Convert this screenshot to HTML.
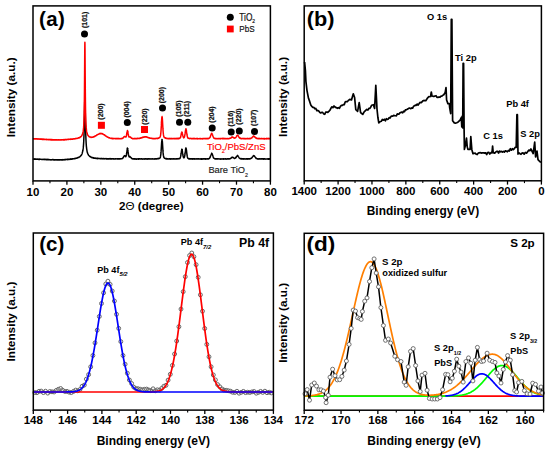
<!DOCTYPE html>
<html><head><meta charset="utf-8"><style>
html,body{margin:0;padding:0;background:#fff;width:550px;height:453px;overflow:hidden;}
svg{display:block;font-family:"Liberation Sans", sans-serif;}
</style></head><body>
<svg width="550" height="453" viewBox="0 0 550 453" font-family='"Liberation Sans", sans-serif'>
<rect width="550" height="453" fill="#fff"/>
<path d="M33.17,158.96 L33.34,159.09 L33.51,159.02 L33.68,159.12 L33.85,159.13 L34.02,158.91 L34.19,158.89 L34.35,159.23 L34.52,159.00 L34.69,158.99 L34.86,159.30 L35.03,159.09 L35.20,159.24 L35.37,159.10 L35.54,159.17 L35.71,158.98 L35.88,159.18 L36.05,159.28 L36.22,159.14 L36.39,159.23 L36.56,159.21 L36.73,158.97 L36.89,159.25 L37.06,159.19 L37.23,159.08 L37.40,158.98 L37.57,159.32 L37.74,159.16 L37.91,159.27 L38.08,159.34 L38.25,159.28 L38.42,159.37 L38.59,159.16 L38.76,159.33 L38.93,159.19 L39.10,159.39 L39.27,159.38 L39.43,159.07 L39.60,159.09 L39.77,159.13 L39.94,159.44 L40.11,159.23 L40.28,159.31 L40.45,159.19 L40.62,159.28 L40.79,159.24 L40.96,159.23 L41.13,159.33 L41.30,159.34 L41.47,159.47 L41.64,159.39 L41.81,159.50 L41.97,159.47 L42.14,159.53 L42.31,159.41 L42.48,159.22 L42.65,159.50 L42.82,159.55 L42.99,159.54 L43.16,159.41 L43.33,159.48 L43.50,159.28 L43.67,159.54 L43.84,159.44 L44.01,159.33 L44.18,159.25 L44.35,159.58 L44.51,159.64 L44.68,159.29 L44.85,159.58 L45.02,159.43 L45.19,159.34 L45.36,159.40 L45.53,159.60 L45.70,159.65 L45.87,159.33 L46.04,159.56 L46.21,159.34 L46.38,159.62 L46.55,159.47 L46.72,159.70 L46.89,159.75 L47.05,159.57 L47.22,159.77 L47.39,159.51 L47.56,159.42 L47.73,159.64 L47.90,159.42 L48.07,159.49 L48.24,159.58 L48.41,159.67 L48.58,159.50 L48.75,159.46 L48.92,159.80 L49.09,159.59 L49.26,159.85 L49.43,159.83 L49.59,159.63 L49.76,159.67 L49.93,159.70 L50.10,159.76 L50.27,159.75 L50.44,159.74 L50.61,159.77 L50.78,159.91 L50.95,159.74 L51.12,159.72 L51.29,159.84 L51.46,159.65 L51.63,159.68 L51.80,159.96 L51.97,159.78 L52.13,159.80 L52.30,159.59 L52.47,159.76 L52.64,159.83 L52.81,159.61 L52.98,159.85 L53.15,159.87 L53.32,159.64 L53.49,159.87 L53.66,159.81 L53.83,159.90 L54.00,159.78 L54.17,159.92 L54.34,159.94 L54.51,159.65 L54.67,159.67 L54.84,159.92 L55.01,160.04 L55.18,159.76 L55.35,159.84 L55.52,159.90 L55.69,159.79 L55.86,159.81 L56.03,159.79 L56.20,159.82 L56.37,159.91 L56.54,159.79 L56.71,159.82 L56.88,159.98 L57.04,159.68 L57.21,159.90 L57.38,159.97 L57.55,159.80 L57.72,159.76 L57.89,159.99 L58.06,159.77 L58.23,159.74 L58.40,159.84 L58.57,159.94 L58.74,159.70 L58.91,159.79 L59.08,159.79 L59.25,159.99 L59.42,159.83 L59.59,159.99 L59.75,159.71 L59.92,159.78 L60.09,159.90 L60.26,159.99 L60.43,159.81 L60.60,159.72 L60.77,159.67 L60.94,159.83 L61.11,159.69 L61.28,159.93 L61.45,159.94 L61.62,159.67 L61.79,159.70 L61.96,159.90 L62.12,159.83 L62.29,159.89 L62.46,159.70 L62.63,159.60 L62.80,159.66 L62.97,159.86 L63.14,159.64 L63.31,159.66 L63.48,159.68 L63.65,159.67 L63.82,159.66 L63.99,159.85 L64.16,159.54 L64.33,159.47 L64.50,159.83 L64.66,159.80 L64.83,159.83 L65.00,159.60 L65.17,159.80 L65.34,159.78 L65.51,159.48 L65.68,159.68 L65.85,159.71 L66.02,159.62 L66.19,159.55 L66.36,159.45 L66.53,159.46 L66.70,159.40 L66.87,159.32 L67.04,159.52 L67.20,159.39 L67.37,159.58 L67.54,159.26 L67.71,159.59 L67.88,159.49 L68.05,159.57 L68.22,159.55 L68.39,159.53 L68.56,159.39 L68.73,159.15 L68.90,159.43 L69.07,159.18 L69.24,159.22 L69.41,159.34 L69.58,159.27 L69.74,159.21 L69.91,159.40 L70.08,159.26 L70.25,159.13 L70.42,159.08 L70.59,159.30 L70.76,159.13 L70.93,159.23 L71.10,159.04 L71.27,158.96 L71.44,159.08 L71.61,159.17 L71.78,158.89 L71.95,159.12 L72.12,159.15 L72.28,159.08 L72.45,159.07 L72.62,158.72 L72.79,158.94 L72.96,159.01 L73.13,158.66 L73.30,158.73 L73.47,158.70 L73.64,158.78 L73.81,158.71 L73.98,158.70 L74.15,158.79 L74.32,158.46 L74.49,158.45 L74.66,158.45 L74.82,158.41 L74.99,158.36 L75.16,158.69 L75.33,158.60 L75.50,158.26 L75.67,158.39 L75.84,158.28 L76.01,158.24 L76.18,158.21 L76.35,158.28 L76.52,158.21 L76.69,158.08 L76.86,157.96 L77.03,157.96 L77.20,157.83 L77.36,157.95 L77.53,157.95 L77.70,157.76 L77.87,157.57 L78.04,157.55 L78.21,157.55 L78.38,157.57 L78.55,157.56 L78.72,157.32 L78.89,157.40 L79.06,157.23 L79.23,157.06 L79.40,156.93 L79.57,156.87 L79.74,156.83 L79.90,156.59 L80.07,156.56 L80.24,156.32 L80.41,156.07 L80.58,156.02 L80.75,155.89 L80.92,155.44 L81.09,155.36 L81.26,155.12 L81.43,155.03 L81.60,154.75 L81.77,154.19 L81.94,154.02 L82.11,153.55 L82.28,152.85 L82.44,152.36 L82.61,151.56 L82.78,151.04 L82.95,150.02 L83.12,148.93 L83.29,147.43 L83.46,145.52 L83.63,143.14 L83.80,139.92 L83.87,138.08 L83.90,137.62 L83.92,136.89 L83.95,136.22 L83.97,135.72 L83.97,135.49 L84.00,134.75 L84.02,133.97 L84.05,133.25 L84.07,132.31 L84.10,131.40 L84.13,130.58 L84.14,130.05 L84.15,129.62 L84.18,128.59 L84.20,127.57 L84.23,126.50 L84.25,125.34 L84.28,124.20 L84.30,122.91 L84.31,122.85 L84.33,121.73 L84.35,120.48 L84.38,119.11 L84.41,117.85 L84.43,116.52 L84.46,115.04 L84.48,113.98 L84.48,113.71 L84.51,112.35 L84.53,110.89 L84.56,109.51 L84.58,108.17 L84.61,106.90 L84.63,105.65 L84.65,105.07 L84.66,104.41 L84.69,103.29 L84.71,102.25 L84.74,101.32 L84.76,100.47 L84.79,99.84 L84.81,99.35 L84.81,99.24 L84.84,98.93 L84.86,98.62 L84.89,98.60 L84.91,98.69 L84.94,98.92 L84.97,99.30 L84.98,99.68 L84.99,99.85 L85.02,100.57 L85.04,101.29 L85.07,102.21 L85.09,103.32 L85.12,104.47 L85.14,105.62 L85.15,106.12 L85.17,106.91 L85.19,108.15 L85.22,109.51 L85.24,110.88 L85.27,112.31 L85.30,113.67 L85.32,115.05 L85.32,115.19 L85.35,116.51 L85.37,117.78 L85.40,119.16 L85.42,120.43 L85.45,121.75 L85.47,122.96 L85.49,123.79 L85.50,124.11 L85.52,125.25 L85.55,126.42 L85.58,127.49 L85.60,128.51 L85.63,129.53 L85.65,130.49 L85.66,130.91 L85.68,131.39 L85.70,132.38 L85.73,133.17 L85.75,134.00 L85.78,134.77 L85.80,135.56 L85.83,136.27 L85.83,136.27 L85.86,136.92 L85.88,137.60 L85.91,138.35 L86.00,140.26 L86.17,143.44 L86.34,145.86 L86.51,147.45 L86.68,148.78 L86.85,149.92 L87.02,151.04 L87.19,151.80 L87.35,152.56 L87.52,153.07 L87.69,153.30 L87.86,153.70 L88.03,154.09 L88.20,154.39 L88.37,154.88 L88.54,155.20 L88.71,155.46 L88.88,155.41 L89.05,155.85 L89.22,155.81 L89.39,156.02 L89.56,156.29 L89.73,156.17 L89.89,156.31 L90.06,156.73 L90.23,156.62 L90.40,156.75 L90.57,156.94 L90.74,157.07 L90.91,156.89 L91.08,157.10 L91.25,157.22 L91.42,157.31 L91.59,157.27 L91.76,157.48 L91.93,157.69 L92.10,157.52 L92.27,157.63 L92.43,157.51 L92.60,157.62 L92.77,157.83 L92.94,157.65 L93.11,158.00 L93.28,158.05 L93.45,157.76 L93.62,158.13 L93.79,157.94 L93.96,158.13 L94.13,158.16 L94.30,158.00 L94.47,158.18 L94.64,158.20 L94.81,158.29 L94.97,158.09 L95.14,158.31 L95.31,158.42 L95.48,158.32 L95.65,158.29 L95.82,158.14 L95.99,158.31 L96.16,158.27 L96.33,158.44 L96.50,158.44 L96.67,158.41 L96.84,158.27 L97.01,158.47 L97.18,158.48 L97.35,158.31 L97.51,158.61 L97.68,158.53 L97.85,158.33 L98.02,158.67 L98.19,158.36 L98.36,158.45 L98.53,158.62 L98.70,158.58 L98.87,158.57 L99.04,158.62 L99.21,158.55 L99.38,158.50 L99.55,158.46 L99.72,158.42 L99.89,158.69 L100.05,158.71 L100.22,158.64 L100.39,158.72 L100.56,158.58 L100.73,158.55 L100.90,158.60 L101.07,158.80 L101.24,158.48 L101.41,158.67 L101.58,158.57 L101.75,158.79 L101.92,158.63 L102.09,158.63 L102.26,158.66 L102.43,158.72 L102.59,158.82 L102.76,158.65 L102.93,158.86 L103.10,158.57 L103.27,158.64 L103.44,158.57 L103.61,158.58 L103.78,158.85 L103.95,158.84 L104.12,158.62 L104.29,158.63 L104.46,158.72 L104.63,158.86 L104.80,158.89 L104.97,158.87 L105.13,158.81 L105.30,158.63 L105.47,158.74 L105.64,158.66 L105.81,158.80 L105.98,158.82 L106.15,158.67 L106.32,158.70 L106.49,158.91 L106.66,158.61 L106.83,158.93 L107.00,158.96 L107.17,158.99 L107.34,158.77 L107.50,158.84 L107.67,158.85 L107.84,158.87 L108.01,159.01 L108.18,158.90 L108.35,158.75 L108.52,158.97 L108.69,158.82 L108.86,158.87 L109.03,158.93 L109.20,158.64 L109.37,158.95 L109.54,158.91 L109.71,158.84 L109.88,158.85 L110.05,158.83 L110.21,158.73 L110.38,158.86 L110.55,158.67 L110.72,158.85 L110.89,158.91 L111.06,158.83 L111.23,158.88 L111.40,159.04 L111.57,159.02 L111.74,158.72 L111.91,158.98 L112.08,158.91 L112.25,158.69 L112.42,158.81 L112.58,158.76 L112.75,158.70 L112.92,158.89 L113.09,159.04 L113.26,158.80 L113.43,159.02 L113.60,158.95 L113.77,158.73 L113.94,159.02 L114.11,158.92 L114.28,159.05 L114.45,158.97 L114.62,158.98 L114.79,158.82 L114.96,159.01 L115.12,159.06 L115.29,159.03 L115.46,158.86 L115.63,158.99 L115.80,158.88 L115.97,158.73 L116.14,158.71 L116.31,158.72 L116.48,158.77 L116.65,158.75 L116.82,158.89 L116.99,158.97 L117.16,158.91 L117.33,158.86 L117.50,158.95 L117.66,158.81 L117.83,158.88 L118.00,159.00 L118.17,158.85 L118.34,158.77 L118.51,159.05 L118.68,158.98 L118.85,158.84 L119.02,158.84 L119.19,158.90 L119.36,158.93 L119.53,158.78 L119.70,158.69 L119.87,158.77 L120.04,159.00 L120.20,158.75 L120.37,158.87 L120.54,158.76 L120.71,158.77 L120.88,158.75 L121.05,158.84 L121.22,158.74 L121.39,158.67 L121.56,158.68 L121.73,158.68 L121.90,158.77 L122.07,158.55 L122.24,158.46 L122.41,158.53 L122.58,158.38 L122.74,158.34 L122.91,157.87 L123.08,157.77 L123.25,157.50 L123.42,157.05 L123.59,157.12 L123.76,156.51 L123.93,156.18 L124.10,156.08 L124.27,155.77 L124.44,155.83 L124.61,155.68 L124.78,155.62 L124.95,155.70 L125.12,156.13 L125.28,156.13 L125.45,156.52 L125.62,156.52 L125.79,156.74 L125.96,156.35 L126.13,155.97 L126.30,155.34 L126.43,154.84 L126.46,154.57 L126.47,154.47 L126.48,154.35 L126.51,154.25 L126.54,154.10 L126.56,153.88 L126.59,153.62 L126.61,153.43 L126.64,153.23 L126.64,153.23 L126.66,153.03 L126.69,152.82 L126.71,152.68 L126.74,152.50 L126.76,152.19 L126.79,152.07 L126.81,151.85 L126.82,151.83 L126.84,151.62 L126.87,151.40 L126.89,151.07 L126.92,150.88 L126.94,150.70 L126.97,150.52 L126.98,150.34 L126.99,150.23 L127.02,150.09 L127.04,149.80 L127.07,149.64 L127.10,149.44 L127.12,149.30 L127.15,149.16 L127.15,149.06 L127.17,148.97 L127.20,148.82 L127.22,148.69 L127.25,148.52 L127.27,148.45 L127.30,148.28 L127.32,148.23 L127.32,148.18 L127.35,148.17 L127.37,148.08 L127.40,148.01 L127.43,147.97 L127.45,148.03 L127.48,148.02 L127.49,148.04 L127.50,148.02 L127.53,148.07 L127.55,148.08 L127.58,148.22 L127.60,148.22 L127.63,148.38 L127.65,148.52 L127.66,148.52 L127.68,148.57 L127.71,148.73 L127.73,148.95 L127.76,149.08 L127.78,149.28 L127.81,149.46 L127.82,149.54 L127.83,149.65 L127.86,149.83 L127.88,149.98 L127.91,150.19 L127.93,150.36 L127.96,150.61 L127.99,150.90 L127.99,150.87 L128.01,151.07 L128.04,151.23 L128.06,151.45 L128.09,151.74 L128.11,151.91 L128.14,152.10 L128.16,152.33 L128.16,152.39 L128.19,152.59 L128.21,152.73 L128.24,152.97 L128.27,153.26 L128.29,153.36 L128.32,153.60 L128.33,153.70 L128.34,153.81 L128.37,153.97 L128.39,154.17 L128.42,154.31 L128.44,154.44 L128.47,154.59 L128.50,154.66 L128.67,155.80 L128.84,156.07 L129.01,156.36 L129.18,156.89 L129.35,156.62 L129.52,156.88 L129.69,156.53 L129.86,156.67 L130.03,156.60 L130.20,156.91 L130.36,156.93 L130.53,157.10 L130.70,157.33 L130.87,157.58 L131.04,157.58 L131.21,157.90 L131.38,158.03 L131.55,158.07 L131.72,158.52 L131.89,158.55 L132.06,158.74 L132.23,158.58 L132.40,158.78 L132.57,158.79 L132.74,158.93 L132.90,158.69 L133.07,158.82 L133.24,158.89 L133.41,158.73 L133.58,158.93 L133.75,159.00 L133.92,158.88 L134.09,158.98 L134.26,158.96 L134.43,158.81 L134.60,158.86 L134.77,159.12 L134.94,158.86 L135.11,158.90 L135.27,158.76 L135.44,158.82 L135.61,158.80 L135.78,159.10 L135.95,159.02 L136.12,159.08 L136.29,159.13 L136.46,158.98 L136.63,159.11 L136.80,158.95 L136.97,158.91 L137.14,159.12 L137.31,159.10 L137.48,159.12 L137.65,158.94 L137.82,159.05 L137.98,158.91 L138.15,159.14 L138.32,159.11 L138.49,158.86 L138.66,159.12 L138.83,158.82 L139.00,158.78 L139.17,159.04 L139.34,158.87 L139.51,158.96 L139.68,159.00 L139.85,158.76 L140.02,159.05 L140.19,158.86 L140.35,158.92 L140.52,158.89 L140.69,159.05 L140.86,159.05 L141.03,158.87 L141.20,158.79 L141.37,158.87 L141.54,158.92 L141.71,158.78 L141.88,158.81 L142.05,159.06 L142.22,159.03 L142.39,159.14 L142.56,159.14 L142.73,159.10 L142.89,158.90 L143.06,158.82 L143.23,158.88 L143.40,158.94 L143.57,158.96 L143.74,158.97 L143.91,158.90 L144.08,159.10 L144.25,158.87 L144.42,158.94 L144.59,159.11 L144.76,159.08 L144.93,158.87 L145.10,158.85 L145.27,159.08 L145.43,158.76 L145.60,158.81 L145.77,158.97 L145.94,158.97 L146.11,158.82 L146.28,158.77 L146.45,158.84 L146.62,159.06 L146.79,158.94 L146.96,159.15 L147.13,159.07 L147.30,159.15 L147.47,158.77 L147.64,158.83 L147.81,158.76 L147.97,158.93 L148.14,158.89 L148.31,158.77 L148.48,158.97 L148.65,158.79 L148.82,158.88 L148.99,158.85 L149.16,159.07 L149.33,158.92 L149.50,158.85 L149.67,158.77 L149.84,158.92 L150.01,159.00 L150.18,159.02 L150.35,159.11 L150.51,159.07 L150.68,158.85 L150.85,158.80 L151.02,159.05 L151.19,159.06 L151.36,158.95 L151.53,159.08 L151.70,158.96 L151.87,158.85 L152.04,158.81 L152.21,158.75 L152.38,159.00 L152.55,159.10 L152.72,159.10 L152.89,158.92 L153.05,159.00 L153.22,159.10 L153.39,159.06 L153.56,158.97 L153.73,158.89 L153.90,158.93 L154.07,158.79 L154.24,158.79 L154.41,158.99 L154.58,159.11 L154.75,158.93 L154.92,158.87 L155.09,158.84 L155.26,158.88 L155.43,159.02 L155.59,158.87 L155.76,159.07 L155.93,158.74 L156.10,158.79 L156.27,158.87 L156.44,158.81 L156.61,158.98 L156.78,158.95 L156.95,158.98 L157.12,158.84 L157.29,158.59 L157.46,158.79 L157.63,158.75 L157.80,158.70 L157.97,158.59 L158.13,158.74 L158.30,158.79 L158.47,158.43 L158.64,158.61 L158.81,158.45 L158.98,158.46 L159.15,158.55 L159.32,158.52 L159.49,158.31 L159.66,158.04 L159.83,158.20 L160.00,157.72 L160.17,157.52 L160.34,157.26 L160.51,156.40 L160.67,155.39 L160.84,154.27 L161.01,152.42 L161.03,152.05 L161.05,151.74 L161.08,151.39 L161.10,151.03 L161.13,150.69 L161.15,150.42 L161.18,149.94 L161.18,149.91 L161.20,149.58 L161.23,149.18 L161.26,148.84 L161.28,148.47 L161.31,148.08 L161.33,147.65 L161.35,147.35 L161.36,147.16 L161.38,146.78 L161.41,146.45 L161.43,145.93 L161.46,145.54 L161.48,145.15 L161.51,144.72 L161.52,144.57 L161.54,144.29 L161.56,143.92 L161.59,143.61 L161.61,143.13 L161.64,142.85 L161.66,142.41 L161.69,142.16 L161.69,142.08 L161.71,141.78 L161.74,141.41 L161.76,141.10 L161.79,140.91 L161.81,140.58 L161.84,140.35 L161.86,140.27 L161.87,140.23 L161.89,139.94 L161.92,139.89 L161.94,139.71 L161.97,139.59 L161.99,139.49 L162.02,139.47 L162.03,139.54 L162.04,139.45 L162.07,139.44 L162.09,139.49 L162.12,139.56 L162.15,139.69 L162.17,139.89 L162.20,139.95 L162.20,139.97 L162.22,140.23 L162.25,140.45 L162.27,140.68 L162.30,140.85 L162.32,141.14 L162.35,141.51 L162.37,141.68 L162.37,141.79 L162.40,142.08 L162.43,142.39 L162.45,142.78 L162.48,143.20 L162.50,143.59 L162.53,143.95 L162.54,144.10 L162.55,144.35 L162.58,144.74 L162.60,145.16 L162.63,145.61 L162.65,145.95 L162.68,146.41 L162.71,146.86 L162.71,146.87 L162.73,147.18 L162.76,147.69 L162.78,148.08 L162.81,148.40 L162.83,148.81 L162.86,149.19 L162.88,149.45 L162.88,149.67 L162.91,149.98 L162.93,150.41 L162.96,150.68 L162.98,151.02 L163.01,151.46 L163.04,151.79 L163.05,151.93 L163.06,152.15 L163.21,153.81 L163.38,155.38 L163.55,156.16 L163.72,157.05 L163.89,157.48 L164.06,157.66 L164.23,158.04 L164.40,158.07 L164.57,158.24 L164.74,158.27 L164.91,158.31 L165.08,158.38 L165.25,158.53 L165.42,158.73 L165.58,158.75 L165.75,158.76 L165.92,158.78 L166.09,158.59 L166.26,158.89 L166.43,158.63 L166.60,158.60 L166.77,158.77 L166.94,158.88 L167.11,158.74 L167.28,158.87 L167.45,158.74 L167.62,159.03 L167.79,158.83 L167.96,158.85 L168.13,158.88 L168.29,159.02 L168.46,159.08 L168.63,158.90 L168.80,158.87 L168.97,158.94 L169.14,158.73 L169.31,158.87 L169.48,159.05 L169.65,159.02 L169.82,158.73 L169.99,159.06 L170.16,158.87 L170.33,159.11 L170.50,158.86 L170.66,158.81 L170.83,158.94 L171.00,159.08 L171.17,158.89 L171.34,159.07 L171.51,159.01 L171.68,158.87 L171.85,158.84 L172.02,158.93 L172.19,158.88 L172.36,158.87 L172.53,158.99 L172.70,159.07 L172.87,158.96 L173.04,158.78 L173.20,158.81 L173.37,158.87 L173.54,158.97 L173.71,158.78 L173.88,158.75 L174.05,158.85 L174.22,158.83 L174.39,158.73 L174.56,158.93 L174.73,159.08 L174.90,158.93 L175.07,159.01 L175.24,159.04 L175.41,159.04 L175.58,159.07 L175.74,158.88 L175.91,158.97 L176.08,158.74 L176.25,159.04 L176.42,158.84 L176.59,158.87 L176.76,159.03 L176.93,158.79 L177.10,158.74 L177.27,158.99 L177.44,158.89 L177.61,158.68 L177.78,158.65 L177.95,158.77 L178.12,158.62 L178.28,158.94 L178.45,158.66 L178.62,158.68 L178.79,158.71 L178.96,158.74 L179.13,158.68 L179.30,158.72 L179.47,158.67 L179.64,158.51 L179.81,158.25 L179.98,158.42 L180.15,158.03 L180.32,157.39 L180.49,156.98 L180.66,156.36 L180.82,155.52 L180.87,155.02 L180.89,154.85 L180.92,154.74 L180.94,154.56 L180.97,154.45 L180.99,154.26 L180.99,154.20 L181.02,154.04 L181.04,153.88 L181.07,153.73 L181.10,153.46 L181.12,153.30 L181.15,153.07 L181.16,153.01 L181.17,152.88 L181.20,152.80 L181.22,152.56 L181.25,152.38 L181.27,152.13 L181.30,151.97 L181.32,151.81 L181.33,151.80 L181.35,151.64 L181.37,151.43 L181.40,151.34 L181.43,151.13 L181.45,150.94 L181.48,150.74 L181.50,150.60 L181.50,150.67 L181.53,150.43 L181.55,150.34 L181.58,150.21 L181.60,150.06 L181.63,149.99 L181.65,149.90 L181.67,149.82 L181.68,149.78 L181.71,149.62 L181.73,149.53 L181.76,149.51 L181.78,149.44 L181.81,149.38 L181.83,149.43 L181.84,149.34 L181.86,149.40 L181.88,149.41 L181.91,149.32 L181.93,149.43 L181.96,149.40 L181.99,149.41 L182.01,149.46 L182.01,149.45 L182.04,149.57 L182.06,149.63 L182.09,149.77 L182.11,149.86 L182.14,149.87 L182.16,150.03 L182.18,150.10 L182.19,150.13 L182.21,150.27 L182.24,150.41 L182.27,150.60 L182.29,150.71 L182.32,150.85 L182.34,151.02 L182.35,151.09 L182.37,151.23 L182.39,151.36 L182.42,151.59 L182.44,151.71 L182.47,151.95 L182.49,152.13 L182.52,152.24 L182.52,152.33 L182.55,152.47 L182.57,152.67 L182.60,152.86 L182.62,153.05 L182.65,153.21 L182.67,153.35 L182.69,153.54 L182.70,153.63 L182.72,153.76 L182.75,153.95 L182.77,154.09 L182.80,154.33 L182.82,154.48 L182.85,154.59 L182.86,154.70 L182.88,154.84 L182.90,154.88 L183.03,155.86 L183.20,156.46 L183.36,156.94 L183.53,157.56 L183.70,157.66 L183.87,157.90 L184.04,157.79 L184.21,157.39 L184.38,157.18 L184.55,156.73 L184.72,155.78 L184.89,154.78 L184.94,154.59 L184.96,154.26 L184.99,154.08 L185.01,153.90 L185.04,153.74 L185.06,153.51 L185.06,153.45 L185.09,153.33 L185.11,153.11 L185.14,152.87 L185.16,152.73 L185.19,152.53 L185.22,152.27 L185.23,152.23 L185.24,152.10 L185.27,151.88 L185.29,151.61 L185.32,151.37 L185.34,151.24 L185.37,151.04 L185.39,150.78 L185.40,150.78 L185.42,150.61 L185.44,150.37 L185.47,150.23 L185.50,150.02 L185.52,149.81 L185.55,149.60 L185.57,149.52 L185.57,149.45 L185.60,149.33 L185.62,149.11 L185.65,148.98 L185.67,148.82 L185.70,148.71 L185.72,148.61 L185.74,148.51 L185.75,148.44 L185.78,148.40 L185.80,148.28 L185.83,148.24 L185.85,148.14 L185.88,148.08 L185.90,148.10 L185.90,148.15 L185.93,148.12 L185.95,148.08 L185.98,148.07 L186.00,148.05 L186.03,148.11 L186.06,148.17 L186.07,148.29 L186.08,148.21 L186.11,148.38 L186.13,148.41 L186.16,148.51 L186.18,148.60 L186.21,148.81 L186.23,148.85 L186.24,148.95 L186.26,149.03 L186.28,149.14 L186.31,149.31 L186.33,149.57 L186.36,149.72 L186.39,149.90 L186.41,150.11 L186.41,150.02 L186.44,150.28 L186.46,150.48 L186.49,150.62 L186.51,150.86 L186.54,151.13 L186.56,151.26 L186.58,151.46 L186.59,151.45 L186.61,151.73 L186.64,151.89 L186.67,152.14 L186.69,152.33 L186.72,152.61 L186.74,152.80 L186.75,152.85 L186.77,153.01 L186.79,153.18 L186.82,153.43 L186.84,153.57 L186.87,153.80 L186.89,154.00 L186.92,154.17 L186.92,154.13 L186.95,154.33 L186.97,154.58 L187.09,155.25 L187.26,156.43 L187.43,157.07 L187.60,157.79 L187.77,158.13 L187.94,158.34 L188.11,158.37 L188.28,158.35 L188.44,158.63 L188.61,158.76 L188.78,158.87 L188.95,158.61 L189.12,158.62 L189.29,158.96 L189.46,158.89 L189.63,158.80 L189.80,158.91 L189.97,158.69 L190.14,158.86 L190.31,158.92 L190.48,158.90 L190.65,158.73 L190.82,158.73 L190.98,158.93 L191.15,159.04 L191.32,158.75 L191.49,158.70 L191.66,158.73 L191.83,159.02 L192.00,158.86 L192.17,158.89 L192.34,159.11 L192.51,158.96 L192.68,158.82 L192.85,159.00 L193.02,158.73 L193.19,158.84 L193.35,159.01 L193.52,158.80 L193.69,158.75 L193.86,158.94 L194.03,158.87 L194.20,159.13 L194.37,158.78 L194.54,159.06 L194.71,158.90 L194.88,159.07 L195.05,158.92 L195.22,159.01 L195.39,158.88 L195.56,158.84 L195.73,158.93 L195.90,159.07 L196.06,158.89 L196.23,158.84 L196.40,158.92 L196.57,158.79 L196.74,158.88 L196.91,158.98 L197.08,158.97 L197.25,158.99 L197.42,158.87 L197.59,158.76 L197.76,158.77 L197.93,158.89 L198.10,158.83 L198.27,158.98 L198.43,158.86 L198.60,159.06 L198.77,159.00 L198.94,159.02 L199.11,159.05 L199.28,158.97 L199.45,158.93 L199.62,158.88 L199.79,158.78 L199.96,159.07 L200.13,158.96 L200.30,158.80 L200.47,159.13 L200.64,158.99 L200.81,159.01 L200.97,158.93 L201.14,158.81 L201.31,159.16 L201.48,158.82 L201.65,158.90 L201.82,159.15 L201.99,158.80 L202.16,158.95 L202.33,158.95 L202.50,158.85 L202.67,159.12 L202.84,158.92 L203.01,158.76 L203.18,158.94 L203.35,158.75 L203.51,159.03 L203.68,159.09 L203.85,159.11 L204.02,158.76 L204.19,159.01 L204.36,158.86 L204.53,158.93 L204.70,158.86 L204.87,158.86 L205.04,158.79 L205.21,158.98 L205.38,158.77 L205.55,159.11 L205.72,158.74 L205.89,159.11 L206.05,158.80 L206.22,158.75 L206.39,159.01 L206.56,158.92 L206.73,159.01 L206.90,158.90 L207.07,158.95 L207.24,158.72 L207.41,158.95 L207.58,158.88 L207.75,159.05 L207.92,158.65 L208.09,158.66 L208.26,158.89 L208.43,158.97 L208.59,158.73 L208.76,158.81 L208.93,158.69 L209.10,158.55 L209.27,158.47 L209.44,158.38 L209.61,157.97 L209.78,157.85 L209.95,157.73 L210.12,157.18 L210.29,156.86 L210.46,156.30 L210.63,155.83 L210.71,155.68 L210.74,155.57 L210.76,155.51 L210.79,155.37 L210.80,155.31 L210.81,155.28 L210.84,155.16 L210.86,155.10 L210.89,155.06 L210.91,154.99 L210.94,154.86 L210.97,154.78 L210.99,154.69 L211.02,154.62 L211.04,154.58 L211.07,154.48 L211.09,154.48 L211.12,154.37 L211.13,154.30 L211.14,154.28 L211.17,154.17 L211.19,154.18 L211.22,154.12 L211.25,154.01 L211.27,153.99 L211.30,153.88 L211.30,153.85 L211.32,153.82 L211.35,153.76 L211.37,153.76 L211.40,153.71 L211.42,153.68 L211.45,153.56 L211.47,153.60 L211.47,153.57 L211.50,153.52 L211.52,153.50 L211.55,153.47 L211.58,153.42 L211.60,153.42 L211.63,153.43 L211.64,153.43 L211.65,153.45 L211.68,153.35 L211.70,153.43 L211.73,153.42 L211.75,153.41 L211.78,153.45 L211.80,153.36 L211.81,153.44 L211.83,153.46 L211.86,153.38 L211.88,153.46 L211.91,153.53 L211.93,153.48 L211.96,153.58 L211.98,153.62 L211.98,153.56 L212.01,153.57 L212.03,153.62 L212.06,153.74 L212.08,153.74 L212.11,153.77 L212.14,153.84 L212.15,153.93 L212.16,153.88 L212.19,153.91 L212.21,154.08 L212.24,154.07 L212.26,154.14 L212.29,154.28 L212.31,154.26 L212.32,154.26 L212.34,154.41 L212.36,154.40 L212.39,154.47 L212.42,154.64 L212.44,154.63 L212.47,154.78 L212.49,154.79 L212.49,154.79 L212.52,154.86 L212.54,154.98 L212.57,155.06 L212.59,155.12 L212.62,155.22 L212.64,155.27 L212.66,155.38 L212.67,155.43 L212.69,155.49 L212.72,155.58 L212.75,155.57 L212.83,155.78 L213.00,156.27 L213.17,156.72 L213.34,157.46 L213.51,157.79 L213.67,158.09 L213.84,158.18 L214.01,158.19 L214.18,158.45 L214.35,158.41 L214.52,158.83 L214.69,158.63 L214.86,158.68 L215.03,158.97 L215.20,158.70 L215.37,159.01 L215.54,158.78 L215.71,158.93 L215.88,158.71 L216.05,159.04 L216.21,158.85 L216.38,158.83 L216.55,158.96 L216.72,158.94 L216.89,158.81 L217.06,158.76 L217.23,158.95 L217.40,158.73 L217.57,159.07 L217.74,158.86 L217.91,158.80 L218.08,158.86 L218.25,158.78 L218.42,158.86 L218.59,158.96 L218.75,158.90 L218.92,158.88 L219.09,158.86 L219.26,158.94 L219.43,159.06 L219.60,158.92 L219.77,159.06 L219.94,158.94 L220.11,158.80 L220.28,158.82 L220.45,159.09 L220.62,158.94 L220.79,158.91 L220.96,158.96 L221.12,159.09 L221.29,158.90 L221.46,158.90 L221.63,158.90 L221.80,158.76 L221.97,158.97 L222.14,158.95 L222.31,158.95 L222.48,158.94 L222.65,158.95 L222.82,159.04 L222.99,158.83 L223.16,159.15 L223.33,158.80 L223.50,159.10 L223.66,158.83 L223.83,159.07 L224.00,158.86 L224.17,158.79 L224.34,158.97 L224.51,159.09 L224.68,159.09 L224.85,159.10 L225.02,159.14 L225.19,158.77 L225.36,158.90 L225.53,158.79 L225.70,159.05 L225.87,158.93 L226.04,159.05 L226.20,159.07 L226.37,159.15 L226.54,159.01 L226.71,159.09 L226.88,158.96 L227.05,158.77 L227.22,159.09 L227.39,158.77 L227.56,158.77 L227.73,159.06 L227.90,158.84 L228.07,158.99 L228.24,158.73 L228.41,158.80 L228.58,158.99 L228.74,158.71 L228.91,158.89 L229.08,159.05 L229.25,158.74 L229.42,158.91 L229.59,158.90 L229.76,158.81 L229.93,158.82 L230.10,158.73 L230.27,158.38 L230.44,158.37 L230.61,158.41 L230.78,158.47 L230.95,158.04 L231.12,158.05 L231.28,157.73 L231.40,157.82 L231.42,157.75 L231.45,157.74 L231.45,157.75 L231.47,157.67 L231.50,157.72 L231.53,157.71 L231.55,157.70 L231.58,157.61 L231.60,157.58 L231.62,157.56 L231.63,157.64 L231.65,157.57 L231.68,157.54 L231.70,157.54 L231.73,157.54 L231.75,157.48 L231.78,157.46 L231.79,157.50 L231.81,157.50 L231.83,157.42 L231.86,157.38 L231.88,157.46 L231.91,157.42 L231.93,157.39 L231.96,157.36 L231.96,157.42 L231.98,157.34 L232.01,157.31 L232.03,157.28 L232.06,157.30 L232.09,157.32 L232.11,157.28 L232.13,157.34 L232.14,157.30 L232.16,157.27 L232.19,157.28 L232.21,157.27 L232.24,157.26 L232.26,157.24 L232.29,157.24 L232.30,157.24 L232.31,157.27 L232.34,157.19 L232.37,157.26 L232.39,157.20 L232.42,157.27 L232.44,157.17 L232.47,157.22 L232.47,157.22 L232.49,157.25 L232.52,157.19 L232.54,157.20 L232.57,157.19 L232.59,157.25 L232.62,157.26 L232.64,157.19 L232.64,157.22 L232.67,157.23 L232.70,157.32 L232.72,157.27 L232.75,157.30 L232.77,157.27 L232.80,157.33 L232.81,157.35 L232.82,157.34 L232.85,157.27 L232.87,157.34 L232.90,157.36 L232.92,157.32 L232.95,157.42 L232.98,157.38 L232.98,157.38 L233.00,157.43 L233.03,157.44 L233.05,157.45 L233.08,157.51 L233.10,157.49 L233.13,157.48 L233.15,157.46 L233.15,157.53 L233.18,157.52 L233.20,157.56 L233.23,157.56 L233.26,157.53 L233.28,157.56 L233.31,157.59 L233.32,157.59 L233.33,157.69 L233.36,157.68 L233.38,157.66 L233.41,157.73 L233.43,157.74 L233.49,157.59 L233.66,158.00 L233.82,157.91 L233.99,158.32 L234.16,158.07 L234.33,158.20 L234.50,158.23 L234.67,158.49 L234.84,158.47 L235.01,158.33 L235.18,158.09 L235.35,158.09 L235.52,158.07 L235.69,157.64 L235.86,157.78 L236.03,157.52 L236.20,157.31 L236.36,156.95 L236.49,156.69 L236.51,156.70 L236.53,156.58 L236.54,156.58 L236.56,156.52 L236.59,156.48 L236.61,156.52 L236.64,156.40 L236.66,156.43 L236.69,156.35 L236.70,156.39 L236.71,156.36 L236.74,156.31 L236.77,156.30 L236.79,156.16 L236.82,156.16 L236.84,156.13 L236.87,156.11 L236.87,156.13 L236.89,156.13 L236.92,156.08 L236.94,156.07 L236.97,156.01 L236.99,155.94 L237.02,155.93 L237.04,155.94 L237.05,155.94 L237.07,155.86 L237.10,155.84 L237.12,155.84 L237.15,155.77 L237.17,155.83 L237.20,155.71 L237.21,155.78 L237.22,155.75 L237.25,155.70 L237.27,155.73 L237.30,155.70 L237.33,155.75 L237.35,155.73 L237.38,155.68 L237.38,155.72 L237.40,155.71 L237.43,155.62 L237.45,155.69 L237.48,155.69 L237.50,155.71 L237.53,155.69 L237.55,155.64 L237.55,155.62 L237.58,155.68 L237.60,155.63 L237.63,155.71 L237.66,155.69 L237.68,155.73 L237.71,155.69 L237.72,155.69 L237.73,155.77 L237.76,155.76 L237.78,155.74 L237.81,155.78 L237.83,155.79 L237.86,155.83 L237.88,155.84 L237.89,155.82 L237.91,155.92 L237.94,155.93 L237.96,155.95 L237.99,155.92 L238.01,155.93 L238.04,156.03 L238.06,156.06 L238.06,156.05 L238.09,156.03 L238.11,156.12 L238.14,156.13 L238.16,156.15 L238.19,156.21 L238.22,156.23 L238.23,156.27 L238.24,156.30 L238.27,156.37 L238.29,156.30 L238.32,156.40 L238.34,156.48 L238.37,156.48 L238.39,156.51 L238.40,156.55 L238.42,156.49 L238.44,156.62 L238.47,156.64 L238.50,156.68 L238.52,156.68 L238.57,156.83 L238.74,156.90 L238.90,157.33 L239.07,157.47 L239.24,157.97 L239.41,158.12 L239.58,158.16 L239.75,158.43 L239.92,158.40 L240.09,158.56 L240.26,158.50 L240.43,158.84 L240.60,158.85 L240.77,158.89 L240.94,158.65 L241.11,158.96 L241.28,158.66 L241.44,158.89 L241.61,158.87 L241.78,158.71 L241.95,158.86 L242.12,159.05 L242.29,158.95 L242.46,158.83 L242.63,159.04 L242.80,158.86 L242.97,159.08 L243.14,158.88 L243.31,158.75 L243.48,159.11 L243.65,158.75 L243.81,158.83 L243.98,159.04 L244.15,158.78 L244.32,158.95 L244.49,159.08 L244.66,158.97 L244.83,158.87 L245.00,159.04 L245.17,159.06 L245.34,158.97 L245.51,158.98 L245.68,158.86 L245.85,158.90 L246.02,159.13 L246.19,159.12 L246.36,158.73 L246.52,158.81 L246.69,158.82 L246.86,159.05 L247.03,158.81 L247.20,158.79 L247.37,159.03 L247.54,158.79 L247.71,159.11 L247.88,158.90 L248.05,159.08 L248.22,159.04 L248.39,158.79 L248.56,159.02 L248.73,158.87 L248.89,158.78 L249.06,158.71 L249.23,158.96 L249.40,158.89 L249.57,158.78 L249.74,158.97 L249.91,158.70 L250.08,158.77 L250.25,158.59 L250.42,158.65 L250.59,158.82 L250.76,158.60 L250.93,158.38 L251.10,158.31 L251.27,158.36 L251.43,158.08 L251.60,158.17 L251.77,157.66 L251.94,157.79 L252.11,157.48 L252.28,157.33 L252.45,156.91 L252.62,156.56 L252.76,156.49 L252.79,156.51 L252.79,156.44 L252.82,156.41 L252.84,156.46 L252.87,156.44 L252.89,156.40 L252.92,156.37 L252.94,156.30 L252.96,156.32 L252.97,156.29 L252.99,156.24 L253.02,156.19 L253.04,156.11 L253.07,156.09 L253.10,156.08 L253.12,156.08 L253.13,156.03 L253.15,156.11 L253.17,156.04 L253.20,156.03 L253.22,156.02 L253.25,155.92 L253.27,155.98 L253.30,155.96 L253.30,155.88 L253.32,155.84 L253.35,155.90 L253.38,155.89 L253.40,155.86 L253.43,155.80 L253.45,155.80 L253.47,155.74 L253.48,155.75 L253.50,155.75 L253.53,155.78 L253.55,155.69 L253.58,155.78 L253.60,155.66 L253.63,155.77 L253.64,155.68 L253.65,155.74 L253.68,155.73 L253.71,155.75 L253.73,155.69 L253.76,155.71 L253.78,155.66 L253.81,155.73 L253.81,155.64 L253.83,155.74 L253.86,155.70 L253.88,155.64 L253.91,155.76 L253.93,155.69 L253.96,155.67 L253.97,155.69 L253.99,155.67 L254.01,155.71 L254.04,155.78 L254.06,155.82 L254.09,155.79 L254.11,155.84 L254.14,155.85 L254.14,155.84 L254.16,155.81 L254.19,155.82 L254.21,155.82 L254.24,155.89 L254.27,155.87 L254.29,155.96 L254.31,155.93 L254.32,155.96 L254.34,155.98 L254.37,156.02 L254.39,155.99 L254.42,156.03 L254.44,156.11 L254.47,156.08 L254.48,156.15 L254.49,156.20 L254.52,156.16 L254.55,156.26 L254.57,156.25 L254.60,156.32 L254.62,156.30 L254.65,156.36 L254.65,156.36 L254.67,156.33 L254.70,156.40 L254.72,156.44 L254.75,156.46 L254.77,156.52 L254.80,156.70 L254.82,156.68 L254.99,156.92 L255.16,156.89 L255.33,157.35 L255.50,157.54 L255.67,157.88 L255.84,157.69 L256.01,157.93 L256.18,158.40 L256.35,158.29 L256.51,158.53 L256.68,158.58 L256.85,158.58 L257.02,158.66 L257.19,158.76 L257.36,158.97 L257.53,158.82 L257.70,158.95 L257.87,158.77 L258.04,158.95 L258.21,158.92 L258.38,158.99 L258.55,159.05 L258.72,158.74 L258.89,159.10 L259.05,158.96 L259.22,158.83 L259.39,158.91 L259.56,158.77 L259.73,158.83 L259.90,159.07 L260.07,159.02 L260.24,159.09 L260.41,158.81 L260.58,158.79 L260.75,158.90 L260.92,158.95 L261.09,159.04 L261.26,158.87 L261.43,159.05 L261.59,158.99 L261.76,158.87 L261.93,159.08 L262.10,158.79 L262.27,159.00 L262.44,158.84 L262.61,158.78 L262.78,158.96 L262.95,158.98 L263.12,159.01 L263.29,158.92 L263.46,159.14 L263.63,159.08 L263.80,158.83 L263.97,158.77 L264.13,159.16 L264.30,158.94 L264.47,158.82 L264.64,158.85 L264.81,159.06 L264.98,158.85 L265.15,158.93 L265.32,159.05 L265.49,158.92 L265.66,159.04 L265.83,159.16 L266.00,159.10 L266.17,159.03 L266.34,159.03 L266.51,158.90 L266.67,159.04 L266.84,159.04 L267.01,159.02 L267.18,158.98 L267.35,159.08 L267.52,158.86 L267.69,159.07 L267.86,159.17 L268.03,158.80 L268.20,158.88 L268.37,159.18 L268.54,158.82 L268.71,159.11 L268.88,159.02 L269.05,158.81 L269.21,159.04 L269.38,158.79 L269.55,159.12 L269.72,158.91 L269.89,159.16 L270.06,159.14 L270.23,158.84" fill="none" stroke="#000" stroke-width="1.5" stroke-linejoin="round"/>
<path d="M33.17,138.78 L33.34,138.68 L33.51,138.93 L33.68,138.67 L33.85,138.66 L34.02,138.68 L34.19,138.99 L34.35,138.75 L34.52,138.78 L34.69,138.83 L34.86,138.88 L35.03,138.83 L35.20,139.05 L35.37,138.81 L35.54,138.87 L35.71,139.03 L35.88,138.79 L36.05,138.77 L36.22,139.04 L36.39,138.84 L36.56,139.07 L36.73,139.05 L36.89,138.88 L37.06,138.87 L37.23,138.78 L37.40,139.10 L37.57,138.93 L37.74,138.90 L37.91,138.84 L38.08,138.87 L38.25,139.13 L38.42,138.84 L38.59,139.02 L38.76,139.06 L38.93,139.02 L39.10,139.02 L39.27,138.99 L39.43,138.91 L39.60,139.17 L39.77,139.21 L39.94,139.09 L40.11,138.97 L40.28,139.24 L40.45,138.97 L40.62,138.96 L40.79,139.16 L40.96,139.25 L41.13,139.15 L41.30,138.98 L41.47,139.33 L41.64,139.01 L41.81,139.10 L41.97,139.37 L42.14,139.30 L42.31,139.29 L42.48,139.03 L42.65,139.35 L42.82,139.18 L42.99,139.03 L43.16,139.36 L43.33,139.42 L43.50,139.08 L43.67,139.25 L43.84,139.44 L44.01,139.22 L44.18,139.22 L44.35,139.42 L44.51,139.30 L44.68,139.53 L44.85,139.49 L45.02,139.50 L45.19,139.45 L45.36,139.26 L45.53,139.46 L45.70,139.43 L45.87,139.40 L46.04,139.45 L46.21,139.35 L46.38,139.32 L46.55,139.62 L46.72,139.41 L46.89,139.32 L47.05,139.68 L47.22,139.50 L47.39,139.58 L47.56,139.46 L47.73,139.39 L47.90,139.47 L48.07,139.69 L48.24,139.47 L48.41,139.74 L48.58,139.51 L48.75,139.75 L48.92,139.48 L49.09,139.59 L49.26,139.48 L49.43,139.50 L49.59,139.65 L49.76,139.60 L49.93,139.68 L50.10,139.56 L50.27,139.61 L50.44,139.62 L50.61,139.86 L50.78,139.55 L50.95,139.69 L51.12,139.87 L51.29,139.77 L51.46,139.65 L51.63,139.96 L51.80,139.61 L51.97,139.63 L52.13,139.59 L52.30,139.77 L52.47,139.94 L52.64,139.72 L52.81,139.73 L52.98,139.94 L53.15,139.66 L53.32,139.64 L53.49,139.91 L53.66,139.68 L53.83,139.87 L54.00,139.72 L54.17,139.91 L54.34,140.01 L54.51,139.86 L54.67,139.79 L54.84,139.94 L55.01,139.97 L55.18,139.72 L55.35,139.80 L55.52,139.86 L55.69,139.91 L55.86,139.82 L56.03,139.98 L56.20,139.82 L56.37,140.08 L56.54,139.86 L56.71,139.81 L56.88,139.76 L57.04,139.78 L57.21,139.82 L57.38,140.08 L57.55,139.90 L57.72,139.91 L57.89,140.12 L58.06,140.12 L58.23,140.04 L58.40,139.83 L58.57,139.86 L58.74,139.93 L58.91,139.83 L59.08,139.86 L59.25,139.81 L59.42,139.82 L59.59,140.02 L59.75,139.96 L59.92,139.89 L60.09,139.90 L60.26,139.95 L60.43,139.98 L60.60,139.71 L60.77,140.03 L60.94,139.87 L61.11,139.82 L61.28,140.06 L61.45,139.97 L61.62,139.81 L61.79,139.67 L61.96,139.83 L62.12,139.82 L62.29,139.79 L62.46,139.67 L62.63,139.86 L62.80,139.72 L62.97,139.91 L63.14,139.81 L63.31,139.71 L63.48,139.91 L63.65,139.75 L63.82,139.60 L63.99,139.67 L64.16,139.57 L64.33,139.71 L64.50,139.89 L64.66,139.89 L64.83,139.77 L65.00,139.56 L65.17,139.58 L65.34,139.55 L65.51,139.61 L65.68,139.71 L65.85,139.45 L66.02,139.62 L66.19,139.58 L66.36,139.67 L66.53,139.72 L66.70,139.54 L66.87,139.61 L67.04,139.46 L67.20,139.52 L67.37,139.58 L67.54,139.33 L67.71,139.50 L67.88,139.48 L68.05,139.34 L68.22,139.35 L68.39,139.57 L68.56,139.37 L68.73,139.29 L68.90,139.31 L69.07,139.39 L69.24,139.33 L69.41,139.29 L69.58,139.27 L69.74,139.21 L69.91,139.31 L70.08,139.33 L70.25,139.11 L70.42,139.29 L70.59,139.16 L70.76,139.42 L70.93,139.38 L71.10,139.04 L71.27,139.25 L71.44,139.09 L71.61,138.98 L71.78,139.27 L71.95,139.27 L72.12,139.20 L72.28,139.12 L72.45,139.24 L72.62,139.05 L72.79,139.08 L72.96,139.05 L73.13,139.11 L73.30,139.09 L73.47,138.85 L73.64,138.79 L73.81,138.91 L73.98,138.90 L74.15,138.79 L74.32,138.97 L74.49,138.94 L74.66,138.85 L74.82,138.77 L74.99,138.81 L75.16,138.58 L75.33,138.80 L75.50,138.50 L75.67,138.79 L75.84,138.65 L76.01,138.48 L76.18,138.41 L76.35,138.55 L76.52,138.46 L76.69,138.52 L76.86,138.25 L77.03,138.52 L77.20,138.31 L77.36,138.27 L77.53,138.35 L77.70,138.26 L77.87,138.15 L78.04,138.04 L78.21,138.06 L78.38,137.83 L78.55,137.87 L78.72,138.04 L78.89,137.70 L79.06,137.62 L79.23,137.85 L79.40,137.59 L79.57,137.57 L79.74,137.51 L79.90,137.47 L80.07,137.21 L80.24,137.28 L80.41,136.86 L80.58,137.07 L80.75,136.72 L80.92,136.70 L81.09,136.40 L81.26,136.40 L81.43,136.05 L81.60,135.91 L81.77,135.55 L81.94,135.47 L82.11,135.13 L82.28,134.53 L82.44,134.33 L82.61,133.90 L82.78,133.03 L82.95,132.30 L83.12,131.71 L83.29,130.61 L83.46,128.84 L83.63,127.16 L83.80,124.52 L83.87,122.75 L83.90,122.30 L83.92,121.61 L83.95,121.01 L83.97,120.41 L83.97,120.27 L84.00,119.48 L84.02,118.74 L84.05,117.89 L84.07,116.93 L84.10,115.92 L84.13,114.88 L84.14,114.39 L84.15,113.87 L84.18,112.64 L84.20,111.36 L84.23,109.96 L84.25,108.39 L84.28,106.82 L84.30,105.16 L84.31,104.94 L84.33,103.31 L84.35,101.30 L84.38,99.14 L84.41,96.84 L84.43,94.39 L84.46,91.69 L84.48,89.43 L84.48,88.85 L84.51,85.81 L84.53,82.66 L84.56,79.34 L84.58,75.80 L84.61,72.15 L84.63,68.41 L84.65,66.78 L84.66,64.68 L84.69,60.93 L84.71,57.31 L84.74,53.73 L84.76,50.55 L84.79,47.73 L84.81,45.51 L84.81,45.29 L84.84,43.75 L84.86,42.70 L84.89,42.24 L84.91,42.71 L84.94,43.71 L84.97,45.47 L84.98,47.12 L84.99,47.80 L85.02,50.55 L85.04,53.74 L85.07,57.22 L85.09,60.94 L85.12,64.66 L85.14,68.40 L85.15,69.97 L85.17,72.18 L85.19,75.79 L85.22,79.32 L85.24,82.71 L85.27,85.86 L85.30,88.89 L85.32,91.65 L85.32,91.90 L85.35,94.37 L85.37,96.79 L85.40,99.03 L85.42,101.18 L85.45,103.26 L85.47,105.12 L85.49,106.36 L85.50,106.80 L85.52,108.41 L85.55,109.85 L85.58,111.29 L85.60,112.63 L85.63,113.73 L85.65,114.90 L85.66,115.34 L85.68,115.95 L85.70,116.89 L85.73,117.79 L85.75,118.70 L85.78,119.52 L85.80,120.27 L85.83,120.91 L85.83,120.98 L85.86,121.62 L85.88,122.19 L85.91,122.90 L86.00,124.64 L86.17,127.14 L86.34,128.91 L86.51,130.59 L86.68,131.66 L86.85,132.23 L87.02,132.92 L87.19,133.59 L87.35,134.02 L87.52,134.63 L87.69,134.76 L87.86,135.22 L88.03,135.47 L88.20,135.62 L88.37,136.03 L88.54,136.04 L88.71,136.23 L88.88,136.44 L89.05,136.46 L89.22,136.48 L89.39,136.89 L89.56,136.90 L89.73,136.90 L89.89,136.94 L90.06,137.05 L90.23,136.98 L90.40,136.93 L90.57,137.16 L90.74,137.33 L90.91,137.03 L91.08,137.40 L91.25,137.17 L91.42,137.42 L91.59,137.33 L91.76,137.13 L91.93,137.09 L92.10,137.35 L92.27,137.36 L92.43,137.26 L92.60,137.14 L92.77,137.09 L92.94,137.14 L93.11,137.11 L93.28,137.07 L93.45,136.79 L93.62,136.95 L93.79,136.93 L93.96,136.71 L94.13,136.42 L94.30,136.41 L94.47,136.52 L94.64,136.34 L94.81,136.45 L94.97,136.25 L95.14,136.18 L95.31,135.86 L95.48,135.91 L95.65,135.89 L95.82,135.87 L95.99,135.76 L96.16,135.40 L96.33,135.39 L96.50,135.47 L96.67,135.01 L96.84,134.89 L97.01,134.83 L97.18,134.94 L97.35,134.68 L97.51,134.73 L97.68,134.67 L97.85,134.57 L98.02,134.17 L98.19,134.33 L98.36,134.29 L98.53,134.17 L98.70,134.15 L98.87,134.06 L99.04,133.91 L99.21,133.95 L99.38,133.76 L99.55,133.53 L99.72,133.56 L99.89,133.78 L100.05,133.51 L100.22,133.54 L100.39,133.68 L100.56,133.59 L100.73,133.63 L100.90,133.50 L101.07,133.53 L101.24,133.38 L101.41,133.45 L101.58,133.46 L101.75,133.66 L101.92,133.70 L102.09,133.57 L102.26,133.85 L102.43,133.70 L102.59,133.89 L102.76,133.82 L102.93,134.08 L103.10,134.04 L103.27,134.45 L103.44,134.31 L103.61,134.60 L103.78,134.55 L103.95,134.61 L104.12,134.92 L104.29,134.81 L104.46,135.02 L104.63,135.18 L104.80,135.44 L104.97,135.44 L105.13,135.30 L105.30,135.58 L105.47,135.89 L105.64,135.97 L105.81,135.90 L105.98,135.91 L106.15,136.09 L106.32,136.39 L106.49,136.27 L106.66,136.67 L106.83,136.52 L107.00,136.80 L107.17,136.90 L107.34,136.82 L107.50,137.02 L107.67,137.16 L107.84,137.10 L108.01,137.29 L108.18,137.41 L108.35,137.63 L108.52,137.43 L108.69,137.46 L108.86,137.66 L109.03,137.76 L109.20,137.78 L109.37,138.01 L109.54,137.79 L109.71,137.96 L109.88,138.00 L110.05,137.94 L110.21,138.08 L110.38,138.12 L110.55,138.13 L110.72,138.33 L110.89,138.45 L111.06,138.47 L111.23,138.20 L111.40,138.29 L111.57,138.55 L111.74,138.23 L111.91,138.25 L112.08,138.26 L112.25,138.64 L112.42,138.47 L112.58,138.46 L112.75,138.34 L112.92,138.67 L113.09,138.72 L113.26,138.61 L113.43,138.71 L113.60,138.58 L113.77,138.49 L113.94,138.45 L114.11,138.50 L114.28,138.45 L114.45,138.54 L114.62,138.42 L114.79,138.42 L114.96,138.77 L115.12,138.75 L115.29,138.74 L115.46,138.56 L115.63,138.60 L115.80,138.64 L115.97,138.74 L116.14,138.55 L116.31,138.63 L116.48,138.65 L116.65,138.77 L116.82,138.57 L116.99,138.43 L117.16,138.60 L117.33,138.79 L117.50,138.51 L117.66,138.69 L117.83,138.49 L118.00,138.55 L118.17,138.69 L118.34,138.48 L118.51,138.62 L118.68,138.67 L118.85,138.59 L119.02,138.74 L119.19,138.78 L119.36,138.55 L119.53,138.74 L119.70,138.74 L119.87,138.67 L120.04,138.67 L120.20,138.66 L120.37,138.73 L120.54,138.71 L120.71,138.54 L120.88,138.69 L121.05,138.71 L121.22,138.60 L121.39,138.77 L121.56,138.53 L121.73,138.60 L121.90,138.58 L122.07,138.56 L122.24,138.35 L122.41,138.47 L122.58,138.16 L122.74,138.22 L122.91,138.05 L123.08,137.99 L123.25,137.87 L123.42,137.72 L123.59,137.21 L123.76,137.28 L123.93,136.91 L124.10,136.76 L124.27,136.45 L124.44,136.69 L124.61,136.41 L124.78,136.45 L124.95,136.53 L125.12,136.60 L125.28,136.74 L125.45,136.86 L125.62,137.03 L125.79,136.96 L125.96,137.00 L126.13,136.78 L126.30,136.29 L126.43,135.53 L126.46,135.48 L126.47,135.44 L126.48,135.36 L126.51,135.20 L126.54,135.04 L126.56,134.97 L126.59,134.82 L126.61,134.64 L126.64,134.53 L126.64,134.44 L126.66,134.39 L126.69,134.25 L126.71,134.10 L126.74,133.83 L126.76,133.74 L126.79,133.59 L126.81,133.39 L126.82,133.40 L126.84,133.19 L126.87,133.03 L126.89,132.84 L126.92,132.70 L126.94,132.61 L126.97,132.42 L126.98,132.38 L126.99,132.30 L127.02,132.05 L127.04,131.98 L127.07,131.84 L127.10,131.67 L127.12,131.50 L127.15,131.35 L127.15,131.38 L127.17,131.25 L127.20,131.13 L127.22,131.07 L127.25,130.97 L127.27,130.84 L127.30,130.75 L127.32,130.74 L127.32,130.75 L127.35,130.69 L127.37,130.64 L127.40,130.64 L127.43,130.61 L127.45,130.56 L127.48,130.60 L127.49,130.60 L127.50,130.57 L127.53,130.58 L127.55,130.64 L127.58,130.73 L127.60,130.80 L127.63,130.82 L127.65,130.93 L127.66,130.88 L127.68,131.03 L127.71,131.12 L127.73,131.27 L127.76,131.40 L127.78,131.43 L127.81,131.67 L127.82,131.67 L127.83,131.81 L127.86,131.95 L127.88,132.01 L127.91,132.17 L127.93,132.31 L127.96,132.55 L127.99,132.70 L127.99,132.77 L128.01,132.86 L128.04,132.97 L128.06,133.18 L128.09,133.30 L128.11,133.46 L128.14,133.63 L128.16,133.82 L128.16,133.77 L128.19,133.96 L128.21,134.12 L128.24,134.30 L128.27,134.41 L128.29,134.55 L128.32,134.71 L128.33,134.79 L128.34,134.87 L128.37,134.93 L128.39,135.06 L128.42,135.17 L128.44,135.34 L128.47,135.51 L128.50,135.66 L128.67,136.29 L128.84,136.82 L129.01,137.01 L129.18,136.91 L129.35,136.91 L129.52,137.02 L129.69,136.88 L129.86,137.01 L130.03,136.82 L130.20,137.00 L130.36,137.22 L130.53,137.14 L130.70,137.24 L130.87,137.63 L131.04,137.57 L131.21,138.01 L131.38,138.04 L131.55,138.29 L131.72,138.26 L131.89,138.34 L132.06,138.33 L132.23,138.31 L132.40,138.71 L132.57,138.45 L132.74,138.42 L132.90,138.78 L133.07,138.63 L133.24,138.66 L133.41,138.80 L133.58,138.73 L133.75,138.54 L133.92,138.55 L134.09,138.71 L134.26,138.72 L134.43,138.53 L134.60,138.55 L134.77,138.65 L134.94,138.47 L135.11,138.77 L135.27,138.71 L135.44,138.50 L135.61,138.68 L135.78,138.68 L135.95,138.48 L136.12,138.61 L136.29,138.75 L136.46,138.61 L136.63,138.72 L136.80,138.51 L136.97,138.81 L137.14,138.68 L137.31,138.62 L137.48,138.40 L137.65,138.52 L137.82,138.37 L137.98,138.53 L138.15,138.41 L138.32,138.43 L138.49,138.43 L138.66,138.35 L138.83,138.38 L139.00,138.45 L139.17,138.27 L139.34,138.42 L139.51,138.54 L139.68,138.42 L139.85,138.47 L140.02,138.10 L140.19,138.28 L140.35,138.07 L140.52,138.30 L140.69,138.08 L140.86,138.12 L141.03,138.09 L141.20,137.78 L141.37,137.71 L141.54,137.93 L141.71,137.88 L141.88,137.67 L142.05,137.44 L142.22,137.38 L142.39,137.63 L142.56,137.53 L142.73,137.34 L142.89,137.41 L143.06,137.40 L143.23,137.03 L143.40,137.27 L143.57,137.31 L143.74,137.22 L143.91,137.19 L144.08,136.97 L144.25,137.01 L144.42,136.78 L144.59,137.03 L144.76,136.96 L144.93,136.84 L145.10,136.69 L145.27,136.74 L145.43,136.83 L145.60,137.05 L145.77,136.88 L145.94,137.06 L146.11,136.81 L146.28,136.87 L146.45,136.89 L146.62,136.95 L146.79,137.20 L146.96,137.07 L147.13,137.10 L147.30,137.30 L147.47,137.26 L147.64,137.49 L147.81,137.47 L147.97,137.59 L148.14,137.48 L148.31,137.53 L148.48,137.61 L148.65,137.89 L148.82,137.93 L148.99,137.84 L149.16,137.86 L149.33,137.75 L149.50,138.12 L149.67,138.07 L149.84,138.04 L150.01,137.99 L150.18,138.16 L150.35,138.29 L150.51,138.16 L150.68,138.19 L150.85,138.33 L151.02,138.35 L151.19,138.19 L151.36,138.23 L151.53,138.38 L151.70,138.54 L151.87,138.43 L152.04,138.30 L152.21,138.41 L152.38,138.41 L152.55,138.65 L152.72,138.44 L152.89,138.76 L153.05,138.49 L153.22,138.45 L153.39,138.39 L153.56,138.59 L153.73,138.60 L153.90,138.71 L154.07,138.67 L154.24,138.62 L154.41,138.42 L154.58,138.77 L154.75,138.50 L154.92,138.49 L155.09,138.46 L155.26,138.62 L155.43,138.64 L155.59,138.50 L155.76,138.47 L155.93,138.36 L156.10,138.58 L156.27,138.61 L156.44,138.36 L156.61,138.39 L156.78,138.58 L156.95,138.54 L157.12,138.28 L157.29,138.60 L157.46,138.46 L157.63,138.42 L157.80,138.23 L157.97,138.44 L158.13,138.19 L158.30,138.22 L158.47,138.30 L158.64,138.18 L158.81,137.85 L158.98,137.76 L159.15,137.71 L159.32,137.59 L159.49,137.79 L159.66,137.53 L159.83,137.34 L160.00,137.07 L160.17,136.79 L160.34,136.26 L160.51,135.62 L160.67,134.38 L160.84,133.00 L161.01,130.91 L161.03,130.63 L161.05,130.25 L161.08,129.81 L161.10,129.45 L161.13,129.11 L161.15,128.65 L161.18,128.26 L161.18,128.16 L161.20,127.87 L161.23,127.38 L161.26,126.94 L161.28,126.55 L161.31,126.01 L161.33,125.55 L161.35,125.24 L161.36,125.14 L161.38,124.64 L161.41,124.21 L161.43,123.79 L161.46,123.34 L161.48,122.89 L161.51,122.42 L161.52,122.12 L161.54,121.91 L161.56,121.48 L161.59,120.99 L161.61,120.65 L161.64,120.18 L161.66,119.84 L161.69,119.44 L161.69,119.35 L161.71,119.03 L161.74,118.69 L161.76,118.33 L161.79,118.00 L161.81,117.76 L161.84,117.48 L161.86,117.30 L161.87,117.31 L161.89,117.10 L161.92,116.88 L161.94,116.69 L161.97,116.66 L161.99,116.52 L162.02,116.45 L162.03,116.52 L162.04,116.53 L162.07,116.47 L162.09,116.55 L162.12,116.68 L162.15,116.75 L162.17,116.87 L162.20,117.03 L162.20,117.03 L162.22,117.32 L162.25,117.55 L162.27,117.73 L162.30,118.07 L162.32,118.33 L162.35,118.72 L162.37,118.94 L162.37,119.07 L162.40,119.42 L162.43,119.75 L162.45,120.21 L162.48,120.64 L162.50,120.99 L162.53,121.43 L162.54,121.63 L162.55,121.96 L162.58,122.44 L162.60,122.83 L162.63,123.34 L162.65,123.78 L162.68,124.20 L162.71,124.68 L162.71,124.75 L162.73,125.15 L162.76,125.61 L162.78,126.09 L162.81,126.47 L162.83,126.95 L162.86,127.40 L162.88,127.71 L162.88,127.85 L162.91,128.22 L162.93,128.66 L162.96,129.06 L162.98,129.41 L163.01,129.88 L163.04,130.27 L163.05,130.36 L163.06,130.55 L163.21,132.47 L163.38,134.16 L163.55,135.31 L163.72,136.09 L163.89,136.90 L164.06,137.02 L164.23,137.20 L164.40,137.55 L164.57,137.42 L164.74,137.66 L164.91,137.84 L165.08,138.02 L165.25,137.89 L165.42,137.85 L165.58,138.28 L165.75,137.95 L165.92,138.17 L166.09,138.25 L166.26,138.48 L166.43,138.27 L166.60,138.26 L166.77,138.31 L166.94,138.37 L167.11,138.31 L167.28,138.63 L167.45,138.50 L167.62,138.60 L167.79,138.43 L167.96,138.60 L168.13,138.72 L168.29,138.45 L168.46,138.75 L168.63,138.49 L168.80,138.67 L168.97,138.77 L169.14,138.58 L169.31,138.78 L169.48,138.57 L169.65,138.59 L169.82,138.78 L169.99,138.66 L170.16,138.44 L170.33,138.48 L170.50,138.64 L170.66,138.56 L170.83,138.45 L171.00,138.75 L171.17,138.56 L171.34,138.79 L171.51,138.58 L171.68,138.51 L171.85,138.60 L172.02,138.76 L172.19,138.80 L172.36,138.66 L172.53,138.54 L172.70,138.65 L172.87,138.54 L173.04,138.58 L173.20,138.44 L173.37,138.44 L173.54,138.81 L173.71,138.74 L173.88,138.53 L174.05,138.68 L174.22,138.45 L174.39,138.76 L174.56,138.68 L174.73,138.72 L174.90,138.60 L175.07,138.60 L175.24,138.75 L175.41,138.55 L175.58,138.46 L175.74,138.47 L175.91,138.79 L176.08,138.53 L176.25,138.44 L176.42,138.64 L176.59,138.46 L176.76,138.58 L176.93,138.71 L177.10,138.49 L177.27,138.56 L177.44,138.76 L177.61,138.73 L177.78,138.73 L177.95,138.39 L178.12,138.75 L178.28,138.58 L178.45,138.40 L178.62,138.73 L178.79,138.37 L178.96,138.70 L179.13,138.30 L179.30,138.29 L179.47,138.41 L179.64,138.41 L179.81,138.32 L179.98,138.28 L180.15,137.81 L180.32,137.79 L180.49,137.24 L180.66,136.99 L180.82,136.22 L180.87,136.01 L180.89,135.84 L180.92,135.82 L180.94,135.62 L180.97,135.50 L180.99,135.40 L180.99,135.44 L181.02,135.27 L181.04,135.16 L181.07,135.05 L181.10,134.88 L181.12,134.74 L181.15,134.65 L181.16,134.60 L181.17,134.55 L181.20,134.36 L181.22,134.29 L181.25,134.18 L181.27,134.04 L181.30,133.85 L181.32,133.70 L181.33,133.78 L181.35,133.66 L181.37,133.49 L181.40,133.42 L181.43,133.29 L181.45,133.18 L181.48,133.03 L181.50,132.97 L181.50,132.93 L181.53,132.83 L181.55,132.72 L181.58,132.68 L181.60,132.61 L181.63,132.46 L181.65,132.36 L181.67,132.34 L181.68,132.37 L181.71,132.26 L181.73,132.17 L181.76,132.22 L181.78,132.14 L181.81,132.06 L181.83,132.12 L181.84,132.09 L181.86,132.12 L181.88,132.11 L181.91,132.11 L181.93,132.13 L181.96,132.09 L181.99,132.17 L182.01,132.17 L182.01,132.19 L182.04,132.18 L182.06,132.28 L182.09,132.27 L182.11,132.43 L182.14,132.42 L182.16,132.55 L182.18,132.63 L182.19,132.66 L182.21,132.75 L182.24,132.80 L182.27,132.85 L182.29,133.07 L182.32,133.09 L182.34,133.27 L182.35,133.25 L182.37,133.34 L182.39,133.46 L182.42,133.58 L182.44,133.73 L182.47,133.83 L182.49,133.91 L182.52,134.07 L182.52,134.02 L182.55,134.24 L182.57,134.29 L182.60,134.44 L182.62,134.59 L182.65,134.68 L182.67,134.87 L182.69,134.94 L182.70,134.93 L182.72,135.06 L182.75,135.22 L182.77,135.31 L182.80,135.45 L182.82,135.52 L182.85,135.66 L182.86,135.70 L182.88,135.81 L182.90,135.81 L183.03,136.48 L183.20,136.79 L183.36,137.22 L183.53,137.47 L183.70,137.89 L183.87,137.59 L184.04,137.59 L184.21,137.45 L184.38,137.19 L184.55,136.64 L184.72,135.69 L184.89,134.86 L184.94,134.70 L184.96,134.40 L184.99,134.23 L185.01,134.14 L185.04,133.87 L185.06,133.74 L185.06,133.71 L185.09,133.61 L185.11,133.37 L185.14,133.19 L185.16,133.02 L185.19,132.87 L185.22,132.57 L185.23,132.51 L185.24,132.43 L185.27,132.26 L185.29,132.01 L185.32,131.85 L185.34,131.68 L185.37,131.43 L185.39,131.28 L185.40,131.22 L185.42,131.16 L185.44,130.87 L185.47,130.71 L185.50,130.59 L185.52,130.37 L185.55,130.25 L185.57,130.10 L185.57,130.14 L185.60,129.94 L185.62,129.77 L185.65,129.61 L185.67,129.52 L185.70,129.44 L185.72,129.32 L185.74,129.28 L185.75,129.20 L185.78,129.16 L185.80,129.02 L185.83,128.97 L185.85,128.96 L185.88,128.90 L185.90,128.83 L185.90,128.87 L185.93,128.85 L185.95,128.79 L185.98,128.81 L186.00,128.87 L186.03,128.86 L186.06,128.90 L186.07,128.96 L186.08,128.92 L186.11,129.01 L186.13,129.18 L186.16,129.18 L186.18,129.35 L186.21,129.36 L186.23,129.52 L186.24,129.60 L186.26,129.65 L186.28,129.87 L186.31,130.01 L186.33,130.09 L186.36,130.23 L186.39,130.49 L186.41,130.64 L186.41,130.62 L186.44,130.73 L186.46,130.91 L186.49,131.17 L186.51,131.36 L186.54,131.52 L186.56,131.70 L186.58,131.82 L186.59,131.89 L186.61,132.09 L186.64,132.31 L186.67,132.48 L186.69,132.66 L186.72,132.84 L186.74,133.09 L186.75,133.19 L186.77,133.22 L186.79,133.48 L186.82,133.65 L186.84,133.78 L186.87,133.95 L186.89,134.22 L186.92,134.31 L186.92,134.31 L186.95,134.47 L186.97,134.73 L187.09,135.37 L187.26,136.09 L187.43,136.87 L187.60,137.46 L187.77,137.79 L187.94,137.89 L188.11,138.33 L188.28,138.37 L188.44,138.27 L188.61,138.33 L188.78,138.34 L188.95,138.27 L189.12,138.53 L189.29,138.41 L189.46,138.58 L189.63,138.67 L189.80,138.47 L189.97,138.47 L190.14,138.51 L190.31,138.56 L190.48,138.40 L190.65,138.54 L190.82,138.52 L190.98,138.44 L191.15,138.74 L191.32,138.69 L191.49,138.61 L191.66,138.44 L191.83,138.71 L192.00,138.57 L192.17,138.78 L192.34,138.69 L192.51,138.53 L192.68,138.73 L192.85,138.67 L193.02,138.58 L193.19,138.76 L193.35,138.57 L193.52,138.50 L193.69,138.46 L193.86,138.69 L194.03,138.56 L194.20,138.51 L194.37,138.47 L194.54,138.76 L194.71,138.56 L194.88,138.80 L195.05,138.81 L195.22,138.78 L195.39,138.55 L195.56,138.83 L195.73,138.71 L195.90,138.80 L196.06,138.82 L196.23,138.59 L196.40,138.61 L196.57,138.82 L196.74,138.58 L196.91,138.50 L197.08,138.48 L197.25,138.68 L197.42,138.59 L197.59,138.84 L197.76,138.47 L197.93,138.62 L198.10,138.75 L198.27,138.71 L198.43,138.80 L198.60,138.72 L198.77,138.81 L198.94,138.85 L199.11,138.81 L199.28,138.71 L199.45,138.62 L199.62,138.68 L199.79,138.55 L199.96,138.57 L200.13,138.67 L200.30,138.64 L200.47,138.62 L200.64,138.50 L200.81,138.86 L200.97,138.60 L201.14,138.65 L201.31,138.60 L201.48,138.68 L201.65,138.77 L201.82,138.84 L201.99,138.70 L202.16,138.84 L202.33,138.61 L202.50,138.65 L202.67,138.59 L202.84,138.84 L203.01,138.51 L203.18,138.55 L203.35,138.76 L203.51,138.55 L203.68,138.48 L203.85,138.60 L204.02,138.64 L204.19,138.63 L204.36,138.54 L204.53,138.59 L204.70,138.56 L204.87,138.51 L205.04,138.65 L205.21,138.53 L205.38,138.52 L205.55,138.81 L205.72,138.79 L205.89,138.58 L206.05,138.64 L206.22,138.46 L206.39,138.43 L206.56,138.62 L206.73,138.79 L206.90,138.44 L207.07,138.58 L207.24,138.71 L207.41,138.39 L207.58,138.62 L207.75,138.48 L207.92,138.66 L208.09,138.68 L208.26,138.69 L208.43,138.62 L208.59,138.32 L208.76,138.50 L208.93,138.41 L209.10,138.23 L209.27,138.10 L209.44,138.07 L209.61,137.88 L209.78,137.65 L209.95,137.59 L210.12,136.97 L210.29,136.83 L210.46,136.10 L210.63,135.83 L210.71,135.48 L210.74,135.41 L210.76,135.35 L210.79,135.23 L210.80,135.21 L210.81,135.19 L210.84,135.08 L210.86,135.09 L210.89,134.99 L210.91,134.91 L210.94,134.84 L210.97,134.70 L210.99,134.61 L211.02,134.54 L211.04,134.57 L211.07,134.45 L211.09,134.44 L211.12,134.29 L211.13,134.26 L211.14,134.26 L211.17,134.22 L211.19,134.11 L211.22,134.05 L211.25,133.98 L211.27,133.91 L211.30,133.93 L211.30,133.91 L211.32,133.82 L211.35,133.73 L211.37,133.77 L211.40,133.68 L211.42,133.67 L211.45,133.59 L211.47,133.52 L211.47,133.59 L211.50,133.48 L211.52,133.55 L211.55,133.44 L211.58,133.43 L211.60,133.37 L211.63,133.38 L211.64,133.42 L211.65,133.35 L211.68,133.35 L211.70,133.34 L211.73,133.33 L211.75,133.39 L211.78,133.36 L211.80,133.43 L211.81,133.43 L211.83,133.42 L211.86,133.48 L211.88,133.51 L211.91,133.45 L211.93,133.53 L211.96,133.56 L211.98,133.53 L211.98,133.60 L212.01,133.55 L212.03,133.66 L212.06,133.73 L212.08,133.75 L212.11,133.80 L212.14,133.85 L212.15,133.85 L212.16,133.83 L212.19,133.92 L212.21,133.97 L212.24,134.09 L212.26,134.16 L212.29,134.24 L212.31,134.23 L212.32,134.31 L212.34,134.36 L212.36,134.32 L212.39,134.46 L212.42,134.47 L212.44,134.54 L212.47,134.66 L212.49,134.76 L212.49,134.70 L212.52,134.80 L212.54,134.89 L212.57,134.97 L212.59,135.00 L212.62,135.08 L212.64,135.14 L212.66,135.22 L212.67,135.33 L212.69,135.31 L212.72,135.46 L212.75,135.52 L212.83,135.89 L213.00,136.35 L213.17,136.50 L213.34,137.00 L213.51,137.54 L213.67,137.74 L213.84,138.05 L214.01,137.89 L214.18,138.35 L214.35,138.27 L214.52,138.50 L214.69,138.47 L214.86,138.42 L215.03,138.52 L215.20,138.34 L215.37,138.72 L215.54,138.71 L215.71,138.63 L215.88,138.64 L216.05,138.68 L216.21,138.57 L216.38,138.50 L216.55,138.67 L216.72,138.81 L216.89,138.76 L217.06,138.74 L217.23,138.49 L217.40,138.55 L217.57,138.54 L217.74,138.66 L217.91,138.80 L218.08,138.69 L218.25,138.67 L218.42,138.61 L218.59,138.51 L218.75,138.55 L218.92,138.84 L219.09,138.81 L219.26,138.71 L219.43,138.73 L219.60,138.54 L219.77,138.46 L219.94,138.46 L220.11,138.46 L220.28,138.54 L220.45,138.85 L220.62,138.69 L220.79,138.55 L220.96,138.50 L221.12,138.47 L221.29,138.46 L221.46,138.51 L221.63,138.59 L221.80,138.52 L221.97,138.55 L222.14,138.71 L222.31,138.51 L222.48,138.52 L222.65,138.77 L222.82,138.57 L222.99,138.71 L223.16,138.58 L223.33,138.74 L223.50,138.47 L223.66,138.57 L223.83,138.81 L224.00,138.58 L224.17,138.71 L224.34,138.54 L224.51,138.50 L224.68,138.63 L224.85,138.64 L225.02,138.47 L225.19,138.67 L225.36,138.63 L225.53,138.60 L225.70,138.76 L225.87,138.81 L226.04,138.62 L226.20,138.57 L226.37,138.76 L226.54,138.75 L226.71,138.65 L226.88,138.69 L227.05,138.58 L227.22,138.73 L227.39,138.67 L227.56,138.78 L227.73,138.56 L227.90,138.46 L228.07,138.77 L228.24,138.66 L228.41,138.74 L228.58,138.71 L228.74,138.71 L228.91,138.54 L229.08,138.73 L229.25,138.61 L229.42,138.50 L229.59,138.38 L229.76,138.31 L229.93,138.32 L230.10,138.30 L230.27,138.24 L230.44,138.27 L230.61,138.31 L230.78,138.05 L230.95,137.97 L231.12,137.58 L231.28,137.72 L231.40,137.56 L231.42,137.57 L231.45,137.49 L231.45,137.53 L231.47,137.49 L231.50,137.51 L231.53,137.44 L231.55,137.47 L231.58,137.46 L231.60,137.40 L231.62,137.38 L231.63,137.40 L231.65,137.36 L231.68,137.40 L231.70,137.37 L231.73,137.30 L231.75,137.31 L231.78,137.22 L231.79,137.31 L231.81,137.27 L231.83,137.18 L231.86,137.16 L231.88,137.25 L231.91,137.22 L231.93,137.19 L231.96,137.15 L231.96,137.13 L231.98,137.15 L232.01,137.18 L232.03,137.14 L232.06,137.06 L232.09,137.07 L232.11,137.04 L232.13,137.13 L232.14,137.12 L232.16,137.12 L232.19,137.06 L232.21,137.04 L232.24,137.00 L232.26,137.02 L232.29,137.02 L232.30,137.03 L232.31,137.02 L232.34,137.06 L232.37,137.07 L232.39,137.01 L232.42,137.07 L232.44,137.00 L232.47,137.00 L232.47,137.06 L232.49,136.98 L232.52,136.98 L232.54,137.09 L232.57,137.04 L232.59,137.03 L232.62,137.08 L232.64,137.10 L232.64,137.04 L232.67,137.10 L232.70,137.02 L232.72,137.12 L232.75,137.08 L232.77,137.08 L232.80,137.05 L232.81,137.06 L232.82,137.10 L232.85,137.08 L232.87,137.16 L232.90,137.21 L232.92,137.14 L232.95,137.21 L232.98,137.20 L232.98,137.21 L233.00,137.24 L233.03,137.22 L233.05,137.28 L233.08,137.21 L233.10,137.29 L233.13,137.29 L233.15,137.26 L233.15,137.27 L233.18,137.37 L233.20,137.35 L233.23,137.35 L233.26,137.37 L233.28,137.43 L233.31,137.42 L233.32,137.38 L233.33,137.48 L233.36,137.49 L233.38,137.50 L233.41,137.50 L233.43,137.52 L233.49,137.47 L233.66,137.85 L233.82,137.85 L233.99,137.73 L234.16,138.07 L234.33,137.98 L234.50,137.88 L234.67,138.22 L234.84,137.94 L235.01,137.97 L235.18,137.76 L235.35,137.82 L235.52,137.68 L235.69,137.62 L235.86,137.46 L236.03,137.20 L236.20,136.86 L236.36,136.48 L236.49,136.37 L236.51,136.25 L236.53,136.22 L236.54,136.24 L236.56,136.18 L236.59,136.16 L236.61,136.07 L236.64,136.04 L236.66,135.98 L236.69,135.99 L236.70,135.94 L236.71,135.99 L236.74,135.89 L236.77,135.84 L236.79,135.87 L236.82,135.77 L236.84,135.81 L236.87,135.74 L236.87,135.69 L236.89,135.73 L236.92,135.73 L236.94,135.61 L236.97,135.61 L236.99,135.58 L237.02,135.60 L237.04,135.58 L237.05,135.47 L237.07,135.48 L237.10,135.50 L237.12,135.43 L237.15,135.42 L237.17,135.41 L237.20,135.32 L237.21,135.31 L237.22,135.41 L237.25,135.33 L237.27,135.32 L237.30,135.32 L237.33,135.33 L237.35,135.34 L237.38,135.23 L237.38,135.29 L237.40,135.21 L237.43,135.27 L237.45,135.30 L237.48,135.26 L237.50,135.24 L237.53,135.30 L237.55,135.29 L237.55,135.31 L237.58,135.27 L237.60,135.25 L237.63,135.31 L237.66,135.29 L237.68,135.24 L237.71,135.27 L237.72,135.38 L237.73,135.35 L237.76,135.29 L237.78,135.39 L237.81,135.41 L237.83,135.35 L237.86,135.49 L237.88,135.41 L237.89,135.45 L237.91,135.50 L237.94,135.50 L237.96,135.51 L237.99,135.55 L238.01,135.60 L238.04,135.67 L238.06,135.69 L238.06,135.71 L238.09,135.72 L238.11,135.71 L238.14,135.73 L238.16,135.84 L238.19,135.87 L238.22,135.84 L238.23,135.91 L238.24,135.88 L238.27,135.88 L238.29,135.97 L238.32,136.06 L238.34,136.06 L238.37,136.13 L238.39,136.18 L238.40,136.18 L238.42,136.15 L238.44,136.27 L238.47,136.21 L238.50,136.30 L238.52,136.29 L238.57,136.37 L238.74,136.86 L238.90,137.10 L239.07,137.43 L239.24,137.49 L239.41,137.68 L239.58,137.72 L239.75,138.00 L239.92,138.30 L240.09,138.18 L240.26,138.47 L240.43,138.31 L240.60,138.56 L240.77,138.36 L240.94,138.70 L241.11,138.38 L241.28,138.39 L241.44,138.60 L241.61,138.69 L241.78,138.67 L241.95,138.56 L242.12,138.69 L242.29,138.49 L242.46,138.54 L242.63,138.53 L242.80,138.51 L242.97,138.44 L243.14,138.51 L243.31,138.64 L243.48,138.67 L243.65,138.57 L243.81,138.68 L243.98,138.57 L244.15,138.76 L244.32,138.44 L244.49,138.75 L244.66,138.80 L244.83,138.67 L245.00,138.70 L245.17,138.84 L245.34,138.50 L245.51,138.48 L245.68,138.65 L245.85,138.73 L246.02,138.66 L246.19,138.64 L246.36,138.62 L246.52,138.63 L246.69,138.79 L246.86,138.47 L247.03,138.70 L247.20,138.48 L247.37,138.78 L247.54,138.54 L247.71,138.76 L247.88,138.56 L248.05,138.69 L248.22,138.64 L248.39,138.81 L248.56,138.62 L248.73,138.63 L248.89,138.62 L249.06,138.51 L249.23,138.78 L249.40,138.54 L249.57,138.45 L249.74,138.46 L249.91,138.65 L250.08,138.71 L250.25,138.56 L250.42,138.67 L250.59,138.34 L250.76,138.56 L250.93,138.45 L251.10,138.16 L251.27,138.03 L251.43,138.06 L251.60,137.95 L251.77,137.85 L251.94,137.80 L252.11,137.45 L252.28,137.29 L252.45,137.15 L252.62,136.91 L252.76,136.89 L252.79,136.89 L252.79,136.85 L252.82,136.81 L252.84,136.85 L252.87,136.75 L252.89,136.82 L252.92,136.77 L252.94,136.70 L252.96,136.66 L252.97,136.75 L252.99,136.63 L253.02,136.69 L253.04,136.64 L253.07,136.64 L253.10,136.56 L253.12,136.60 L253.13,136.54 L253.15,136.57 L253.17,136.59 L253.20,136.53 L253.22,136.46 L253.25,136.45 L253.27,136.45 L253.30,136.49 L253.30,136.48 L253.32,136.42 L253.35,136.43 L253.38,136.39 L253.40,136.39 L253.43,136.35 L253.45,136.42 L253.47,136.34 L253.48,136.33 L253.50,136.36 L253.53,136.30 L253.55,136.28 L253.58,136.31 L253.60,136.35 L253.63,136.29 L253.64,136.28 L253.65,136.27 L253.68,136.31 L253.71,136.26 L253.73,136.29 L253.76,136.29 L253.78,136.23 L253.81,136.27 L253.81,136.33 L253.83,136.26 L253.86,136.32 L253.88,136.24 L253.91,136.30 L253.93,136.30 L253.96,136.33 L253.97,136.26 L253.99,136.27 L254.01,136.31 L254.04,136.38 L254.06,136.34 L254.09,136.40 L254.11,136.37 L254.14,136.44 L254.14,136.33 L254.16,136.43 L254.19,136.37 L254.21,136.38 L254.24,136.44 L254.27,136.44 L254.29,136.53 L254.31,136.53 L254.32,136.51 L254.34,136.47 L254.37,136.49 L254.39,136.53 L254.42,136.54 L254.44,136.54 L254.47,136.56 L254.48,136.58 L254.49,136.60 L254.52,136.59 L254.55,136.64 L254.57,136.74 L254.60,136.75 L254.62,136.75 L254.65,136.81 L254.65,136.81 L254.67,136.73 L254.70,136.75 L254.72,136.81 L254.75,136.86 L254.77,136.94 L254.80,136.71 L254.82,137.00 L254.99,137.21 L255.16,137.18 L255.33,137.55 L255.50,137.75 L255.67,137.59 L255.84,137.96 L256.01,138.01 L256.18,138.23 L256.35,138.08 L256.51,138.37 L256.68,138.17 L256.85,138.24 L257.02,138.44 L257.19,138.44 L257.36,138.51 L257.53,138.44 L257.70,138.78 L257.87,138.56 L258.04,138.60 L258.21,138.56 L258.38,138.77 L258.55,138.49 L258.72,138.80 L258.89,138.51 L259.05,138.79 L259.22,138.61 L259.39,138.69 L259.56,138.54 L259.73,138.78 L259.90,138.54 L260.07,138.77 L260.24,138.72 L260.41,138.82 L260.58,138.86 L260.75,138.78 L260.92,138.53 L261.09,138.79 L261.26,138.51 L261.43,138.79 L261.59,138.84 L261.76,138.52 L261.93,138.49 L262.10,138.80 L262.27,138.61 L262.44,138.75 L262.61,138.80 L262.78,138.85 L262.95,138.68 L263.12,138.81 L263.29,138.84 L263.46,138.79 L263.63,138.63 L263.80,138.85 L263.97,138.65 L264.13,138.84 L264.30,138.63 L264.47,138.67 L264.64,138.50 L264.81,138.52 L264.98,138.85 L265.15,138.66 L265.32,138.77 L265.49,138.67 L265.66,138.77 L265.83,138.69 L266.00,138.54 L266.17,138.61 L266.34,138.74 L266.51,138.55 L266.67,138.86 L266.84,138.51 L267.01,138.71 L267.18,138.83 L267.35,138.78 L267.52,138.54 L267.69,138.53 L267.86,138.77 L268.03,138.65 L268.20,138.53 L268.37,138.54 L268.54,138.75 L268.71,138.50 L268.88,138.60 L269.05,138.86 L269.21,138.59 L269.38,138.83 L269.55,138.50 L269.72,138.57 L269.89,138.51 L270.06,138.78 L270.23,138.72" fill="none" stroke="#f00" stroke-width="1.5" stroke-linejoin="round"/>
<rect x="33.0" y="5.9" width="237.40" height="175.00" fill="none" stroke="#000" stroke-width="1.5"/>
<line x1="33.00" y1="180.9" x2="33.00" y2="184.70" stroke="#000" stroke-width="1.3"/>
<line x1="66.91" y1="180.9" x2="66.91" y2="184.70" stroke="#000" stroke-width="1.3"/>
<line x1="100.83" y1="180.9" x2="100.83" y2="184.70" stroke="#000" stroke-width="1.3"/>
<line x1="134.74" y1="180.9" x2="134.74" y2="184.70" stroke="#000" stroke-width="1.3"/>
<line x1="168.66" y1="180.9" x2="168.66" y2="184.70" stroke="#000" stroke-width="1.3"/>
<line x1="202.57" y1="180.9" x2="202.57" y2="184.70" stroke="#000" stroke-width="1.3"/>
<line x1="236.49" y1="180.9" x2="236.49" y2="184.70" stroke="#000" stroke-width="1.3"/>
<line x1="270.40" y1="180.9" x2="270.40" y2="184.70" stroke="#000" stroke-width="1.3"/>
<line x1="49.96" y1="180.9" x2="49.96" y2="183.20" stroke="#000" stroke-width="1.1"/>
<line x1="83.87" y1="180.9" x2="83.87" y2="183.20" stroke="#000" stroke-width="1.1"/>
<line x1="117.79" y1="180.9" x2="117.79" y2="183.20" stroke="#000" stroke-width="1.1"/>
<line x1="151.70" y1="180.9" x2="151.70" y2="183.20" stroke="#000" stroke-width="1.1"/>
<line x1="185.61" y1="180.9" x2="185.61" y2="183.20" stroke="#000" stroke-width="1.1"/>
<line x1="219.53" y1="180.9" x2="219.53" y2="183.20" stroke="#000" stroke-width="1.1"/>
<line x1="253.44" y1="180.9" x2="253.44" y2="183.20" stroke="#000" stroke-width="1.1"/>
<text x="33.00" y="195.8" font-size="11.5" font-weight="bold" text-anchor="middle">10</text>
<text x="66.91" y="195.8" font-size="11.5" font-weight="bold" text-anchor="middle">20</text>
<text x="100.83" y="195.8" font-size="11.5" font-weight="bold" text-anchor="middle">30</text>
<text x="134.74" y="195.8" font-size="11.5" font-weight="bold" text-anchor="middle">40</text>
<text x="168.66" y="195.8" font-size="11.5" font-weight="bold" text-anchor="middle">50</text>
<text x="202.57" y="195.8" font-size="11.5" font-weight="bold" text-anchor="middle">60</text>
<text x="236.49" y="195.8" font-size="11.5" font-weight="bold" text-anchor="middle">70</text>
<text x="270.40" y="195.8" font-size="11.5" font-weight="bold" text-anchor="middle">80</text>
<text x="151.3" y="209.6" font-size="11.6" font-weight="bold" text-anchor="middle">2<tspan font-weight="normal">&#920;</tspan> (degree)</text>
<text transform="translate(14.9,97.2) rotate(-90)" font-size="11.8" font-weight="bold" text-anchor="middle">Intensity (a.u.)</text>
<text x="38.9" y="26.3" font-size="20.5" font-weight="bold" letter-spacing="0.5">(a)</text>
<circle cx="84.5" cy="34.0" r="3.5" fill="#000"/>
<circle cx="127.3" cy="122.5" r="3.5" fill="#000"/>
<circle cx="162.5" cy="108.0" r="3.5" fill="#000"/>
<circle cx="179.5" cy="122.2" r="3.5" fill="#000"/>
<circle cx="187.8" cy="122.2" r="3.5" fill="#000"/>
<circle cx="212.2" cy="127.9" r="3.5" fill="#000"/>
<circle cx="231.2" cy="131.9" r="3.5" fill="#000"/>
<circle cx="239.3" cy="131.0" r="3.5" fill="#000"/>
<circle cx="254.5" cy="131.5" r="3.5" fill="#000"/>
<rect x="97.9" y="121.8" width="7" height="7" fill="#f00"/>
<rect x="141.0" y="126.0" width="7" height="7" fill="#f00"/>
<text transform="translate(86.6,28.0) rotate(-90)" font-size="7" font-weight="bold" fill="#111" stroke="#111" stroke-width="0.22">(101)</text>
<text transform="translate(102.8,119.7) rotate(-90)" font-size="7" font-weight="bold" fill="#111" stroke="#111" stroke-width="0.22">(200)</text>
<text transform="translate(129.4,117.6) rotate(-90)" font-size="7" font-weight="bold" fill="#111" stroke="#111" stroke-width="0.22">(004)</text>
<text transform="translate(146.6,124.7) rotate(-90)" font-size="7" font-weight="bold" fill="#111" stroke="#111" stroke-width="0.22">(220)</text>
<text transform="translate(163.8,103.3) rotate(-90)" font-size="7" font-weight="bold" fill="#111" stroke="#111" stroke-width="0.22">(200)</text>
<text transform="translate(180.9,116.8) rotate(-90)" font-size="7" font-weight="bold" fill="#111" stroke="#111" stroke-width="0.22">(105)</text>
<text transform="translate(189.2,116.8) rotate(-90)" font-size="7" font-weight="bold" fill="#111" stroke="#111" stroke-width="0.22">(211)</text>
<text transform="translate(213.8,122.7) rotate(-90)" font-size="7" font-weight="bold" fill="#111" stroke="#111" stroke-width="0.22">(204)</text>
<text transform="translate(232.8,126.5) rotate(-90)" font-size="7" font-weight="bold" fill="#111" stroke="#111" stroke-width="0.22">(116)</text>
<text transform="translate(240.9,124.7) rotate(-90)" font-size="7" font-weight="bold" fill="#111" stroke="#111" stroke-width="0.22">(220)</text>
<text transform="translate(256.0,125.9) rotate(-90)" font-size="7" font-weight="bold" fill="#111" stroke="#111" stroke-width="0.22">(107)</text>
<circle cx="230.3" cy="17.3" r="3.5" fill="#000"/>
<rect x="226.9" y="25.6" width="6.8" height="6.8" fill="#f00"/>
<text transform="translate(239.3,21.1) scale(0.83,1)" font-size="10" fill="#111" stroke="#111" stroke-width="0.2">TiO<tspan font-size="6" dy="2.1">2</tspan></text>
<text transform="translate(239.3,31.7) scale(0.86,1)" font-size="9.4" fill="#111" stroke="#111" stroke-width="0.2">PbS</text>
<text transform="translate(206.9,150.0) scale(1.0,1)" font-size="9.5" fill="#f00" stroke="#f00" stroke-width="0.15">TiO<tspan font-size="5.4" dy="2.7">2</tspan><tspan dy="-2.7">/PbS/ZnS</tspan></text>
<text transform="translate(208.4,173.3) scale(0.98,1)" font-size="9.5" fill="#222" stroke="#222" stroke-width="0.18">Bare TiO<tspan font-size="5.4" dy="3.2">2</tspan></text>
<path d="M304.60,62.00 L305.40,70.50 L305.90,81.30 L307.00,90.60 L308.50,98.30 L309.65,101.40 L310.80,105.09 L311.83,106.46 L312.87,107.52 L313.90,107.44 L314.88,108.81 L315.85,108.47 L316.82,110.75 L317.80,110.43 L318.75,110.99 L319.70,112.31 L320.65,112.91 L321.60,112.43 L322.63,112.38 L323.67,113.89 L324.70,114.26 L325.73,112.17 L326.77,112.00 L327.80,112.39 L328.83,111.43 L329.87,110.24 L330.90,108.27 L331.93,106.79 L332.97,107.63 L334.00,106.00 L335.15,107.15 L336.30,107.65 L337.33,108.29 L338.37,107.59 L339.40,108.36 L340.40,106.34 L341.40,105.40 L342.40,105.47 L343.32,104.60 L344.25,104.60 L345.18,102.06 L346.10,101.49 L347.30,101.69 L348.50,100.29 L349.70,99.30 L350.60,99.60 L351.50,99.90 L352.40,96.85 L353.30,93.80 L354.60,97.50 L355.80,109.60 L356.70,110.50 L357.60,111.40 L359.20,102.70 L360.60,112.60 L361.70,113.50 L362.80,114.40 L364.30,111.67 L365.50,110.52 L366.70,109.40 L367.90,110.15 L368.82,108.42 L369.75,108.41 L370.68,107.20 L371.60,105.30 L373.40,104.70 L374.60,108.40 L375.80,85.30 L377.00,109.00 L377.90,117.50 L378.80,122.90 L380.05,121.70 L381.30,121.30 L382.32,119.44 L383.34,120.24 L384.36,119.24 L385.38,120.75 L386.40,118.73 L387.31,119.42 L388.21,119.15 L389.12,117.59 L390.02,118.02 L390.93,116.58 L391.83,116.02 L392.74,116.11 L393.64,115.24 L394.55,115.62 L395.46,115.73 L396.36,115.85 L397.27,113.97 L398.17,114.03 L399.08,114.08 L399.98,112.84 L400.89,112.41 L401.79,112.13 L402.70,112.74 L403.61,111.25 L404.51,111.70 L405.42,109.89 L406.32,109.80 L407.23,109.32 L408.13,108.74 L409.04,108.14 L409.94,108.21 L410.85,108.69 L411.76,107.91 L412.66,108.19 L413.57,106.26 L414.47,105.79 L415.38,105.21 L416.28,105.32 L417.19,104.06 L418.09,105.11 L419.00,103.83 L419.97,102.37 L420.93,102.76 L421.90,101.97 L422.87,100.83 L423.83,100.44 L424.80,100.62 L425.77,100.72 L426.73,99.23 L427.70,97.84 L428.67,96.72 L429.63,96.74 L430.60,96.50 L431.30,92.00 L432.00,95.93 L433.00,96.32 L434.00,96.36 L435.00,95.98 L436.00,95.71 L437.00,97.38 L438.00,97.41 L439.00,96.91 L440.00,97.34 L440.90,96.20 L441.80,96.23 L442.70,95.22 L443.60,95.00 L445.20,92.50 L446.00,87.60 L446.60,100.00 L447.90,103.60 L449.30,103.60 L449.70,107.90 L450.70,113.60 L451.30,19.30 L451.90,19.30 L452.60,120.80 L454.30,122.86 L455.50,123.16 L456.70,122.75 L457.90,122.20 L459.00,121.15 L460.10,120.10 L461.30,117.50 L461.80,127.00 L462.30,116.00 L462.70,128.00 L463.10,63.30 L463.60,63.30 L464.10,129.40 L464.40,149.40 L465.50,145.10 L466.50,138.00 L467.20,146.60 L467.90,149.40 L469.00,149.40 L470.10,149.40 L470.80,136.50 L471.80,149.40 L473.00,153.65 L474.05,153.42 L475.10,153.01 L476.15,154.19 L477.20,154.57 L478.17,153.10 L479.13,152.93 L480.10,152.57 L481.07,153.07 L482.03,152.91 L483.00,152.94 L483.92,152.85 L484.84,153.16 L485.76,152.81 L486.68,154.53 L487.60,152.55 L488.70,152.25 L489.80,154.08 L490.90,152.72 L492.00,152.80 L492.60,146.10 L493.20,152.60 L494.70,153.15 L495.66,152.09 L496.63,151.31 L497.59,151.26 L498.55,153.09 L499.52,151.06 L500.48,151.82 L501.45,151.31 L502.41,152.04 L503.37,151.35 L504.34,152.19 L505.30,150.77 L506.31,151.14 L507.33,151.77 L508.34,150.44 L509.36,151.03 L510.37,148.69 L511.39,150.18 L512.40,148.76 L513.35,149.69 L514.30,148.64 L515.25,147.26 L516.20,147.40 L516.90,114.70 L517.40,114.70 L518.00,154.09 L519.00,152.85 L520.00,153.72 L521.00,154.27 L522.00,153.09 L523.00,152.93 L524.17,154.22 L525.33,152.35 L526.50,153.17 L527.60,151.64 L528.70,150.13 L529.80,150.69 L530.90,149.00 L532.05,151.25 L533.20,153.50 L534.70,142.00 L535.60,157.00 L537.00,151.00 L538.00,159.70 L539.70,161.50 L541.00,162.40" fill="none" stroke="#000" stroke-width="1.7" stroke-linejoin="round"/>
<rect x="304.2" y="5.9" width="237.20" height="174.90" fill="none" stroke="#000" stroke-width="1.5"/>
<line x1="304.20" y1="180.8" x2="304.20" y2="184.60" stroke="#000" stroke-width="1.3"/>
<line x1="338.09" y1="180.8" x2="338.09" y2="184.60" stroke="#000" stroke-width="1.3"/>
<line x1="371.97" y1="180.8" x2="371.97" y2="184.60" stroke="#000" stroke-width="1.3"/>
<line x1="405.86" y1="180.8" x2="405.86" y2="184.60" stroke="#000" stroke-width="1.3"/>
<line x1="439.74" y1="180.8" x2="439.74" y2="184.60" stroke="#000" stroke-width="1.3"/>
<line x1="473.63" y1="180.8" x2="473.63" y2="184.60" stroke="#000" stroke-width="1.3"/>
<line x1="507.51" y1="180.8" x2="507.51" y2="184.60" stroke="#000" stroke-width="1.3"/>
<line x1="541.40" y1="180.8" x2="541.40" y2="184.60" stroke="#000" stroke-width="1.3"/>
<line x1="321.14" y1="180.8" x2="321.14" y2="183.10" stroke="#000" stroke-width="1.1"/>
<line x1="355.03" y1="180.8" x2="355.03" y2="183.10" stroke="#000" stroke-width="1.1"/>
<line x1="388.91" y1="180.8" x2="388.91" y2="183.10" stroke="#000" stroke-width="1.1"/>
<line x1="422.80" y1="180.8" x2="422.80" y2="183.10" stroke="#000" stroke-width="1.1"/>
<line x1="456.69" y1="180.8" x2="456.69" y2="183.10" stroke="#000" stroke-width="1.1"/>
<line x1="490.57" y1="180.8" x2="490.57" y2="183.10" stroke="#000" stroke-width="1.1"/>
<line x1="524.46" y1="180.8" x2="524.46" y2="183.10" stroke="#000" stroke-width="1.1"/>
<text x="304.20" y="195.4" font-size="11.5" font-weight="bold" text-anchor="middle">1400</text>
<text x="338.09" y="195.4" font-size="11.5" font-weight="bold" text-anchor="middle">1200</text>
<text x="371.97" y="195.4" font-size="11.5" font-weight="bold" text-anchor="middle">1000</text>
<text x="405.86" y="195.4" font-size="11.5" font-weight="bold" text-anchor="middle">800</text>
<text x="439.74" y="195.4" font-size="11.5" font-weight="bold" text-anchor="middle">600</text>
<text x="473.63" y="195.4" font-size="11.5" font-weight="bold" text-anchor="middle">400</text>
<text x="507.51" y="195.4" font-size="11.5" font-weight="bold" text-anchor="middle">200</text>
<text x="541.40" y="195.4" font-size="11.5" font-weight="bold" text-anchor="middle">0</text>
<text x="422.95" y="215.2" font-size="11.9" font-weight="bold" text-anchor="middle">Binding energy (eV)</text>
<text transform="translate(287.4,96.9) rotate(-90)" font-size="11.8" font-weight="bold" text-anchor="middle">Intensity (a.u.)</text>
<text transform="translate(306.8,26.0) scale(1.06,1)" font-size="20.5" font-weight="bold">(b)</text>
<text x="427.0" y="20.3" font-size="9.3" font-weight="bold">O 1s</text>
<text x="455.1" y="60.6" font-size="9.3" font-weight="bold">Ti 2p</text>
<text x="506.2" y="106.8" font-size="9.3" font-weight="bold">Pb 4f</text>
<text x="483.2" y="138.9" font-size="9.3" font-weight="bold">C 1s</text>
<text x="520.3" y="137.3" font-size="9.3" font-weight="bold">S 2p</text>
<g fill="none" stroke="#666" stroke-width="1.0">
<circle cx="34.8" cy="392.5" r="1.95"/>
<circle cx="36.9" cy="392.7" r="1.95"/>
<circle cx="39.1" cy="391.3" r="1.95"/>
<circle cx="41.2" cy="391.1" r="1.95"/>
<circle cx="43.4" cy="392.6" r="1.95"/>
<circle cx="45.5" cy="391.2" r="1.95"/>
<circle cx="47.7" cy="393.1" r="1.95"/>
<circle cx="49.8" cy="391.5" r="1.95"/>
<circle cx="52.0" cy="391.8" r="1.95"/>
<circle cx="54.1" cy="392.0" r="1.95"/>
<circle cx="56.3" cy="390.4" r="1.95"/>
<circle cx="58.4" cy="389.3" r="1.95"/>
<circle cx="60.6" cy="388.5" r="1.95"/>
<circle cx="62.7" cy="390.3" r="1.95"/>
<circle cx="64.9" cy="391.5" r="1.95"/>
<circle cx="67.0" cy="391.4" r="1.95"/>
<circle cx="69.2" cy="392.2" r="1.95"/>
<circle cx="71.3" cy="392.6" r="1.95"/>
<circle cx="73.5" cy="391.4" r="1.95"/>
<circle cx="75.7" cy="390.1" r="1.95"/>
<circle cx="77.8" cy="390.8" r="1.95"/>
<circle cx="80.0" cy="389.5" r="1.95"/>
<circle cx="82.1" cy="386.3" r="1.95"/>
<circle cx="84.3" cy="385.1" r="1.95"/>
<circle cx="86.4" cy="379.1" r="1.95"/>
<circle cx="88.6" cy="374.6" r="1.95"/>
<circle cx="90.7" cy="366.8" r="1.95"/>
<circle cx="92.9" cy="355.5" r="1.95"/>
<circle cx="95.0" cy="342.9" r="1.95"/>
<circle cx="97.2" cy="330.2" r="1.95"/>
<circle cx="99.3" cy="316.5" r="1.95"/>
<circle cx="101.5" cy="303.5" r="1.95"/>
<circle cx="103.6" cy="292.8" r="1.95"/>
<circle cx="105.8" cy="284.0" r="1.95"/>
<circle cx="107.9" cy="281.2" r="1.95"/>
<circle cx="110.1" cy="284.4" r="1.95"/>
<circle cx="112.2" cy="291.0" r="1.95"/>
<circle cx="114.4" cy="301.0" r="1.95"/>
<circle cx="116.5" cy="314.3" r="1.95"/>
<circle cx="118.7" cy="328.4" r="1.95"/>
<circle cx="120.8" cy="341.6" r="1.95"/>
<circle cx="123.0" cy="355.5" r="1.95"/>
<circle cx="125.1" cy="364.2" r="1.95"/>
<circle cx="127.3" cy="373.2" r="1.95"/>
<circle cx="129.4" cy="380.0" r="1.95"/>
<circle cx="131.6" cy="383.5" r="1.95"/>
<circle cx="133.7" cy="387.1" r="1.95"/>
<circle cx="135.9" cy="388.6" r="1.95"/>
<circle cx="138.0" cy="388.7" r="1.95"/>
<circle cx="140.2" cy="389.2" r="1.95"/>
<circle cx="142.3" cy="389.8" r="1.95"/>
<circle cx="144.5" cy="389.3" r="1.95"/>
<circle cx="146.6" cy="389.1" r="1.95"/>
<circle cx="148.8" cy="390.0" r="1.95"/>
<circle cx="150.9" cy="390.7" r="1.95"/>
<circle cx="153.1" cy="388.8" r="1.95"/>
<circle cx="155.2" cy="390.8" r="1.95"/>
<circle cx="157.4" cy="389.8" r="1.95"/>
<circle cx="159.5" cy="390.2" r="1.95"/>
<circle cx="161.7" cy="388.4" r="1.95"/>
<circle cx="163.8" cy="386.3" r="1.95"/>
<circle cx="166.0" cy="385.3" r="1.95"/>
<circle cx="168.1" cy="380.1" r="1.95"/>
<circle cx="170.3" cy="374.3" r="1.95"/>
<circle cx="172.4" cy="365.4" r="1.95"/>
<circle cx="174.6" cy="354.0" r="1.95"/>
<circle cx="176.7" cy="341.0" r="1.95"/>
<circle cx="178.9" cy="326.7" r="1.95"/>
<circle cx="181.0" cy="309.1" r="1.95"/>
<circle cx="183.2" cy="291.7" r="1.95"/>
<circle cx="185.3" cy="276.7" r="1.95"/>
<circle cx="187.5" cy="262.5" r="1.95"/>
<circle cx="189.6" cy="255.5" r="1.95"/>
<circle cx="191.8" cy="253.0" r="1.95"/>
<circle cx="193.9" cy="256.7" r="1.95"/>
<circle cx="196.1" cy="264.7" r="1.95"/>
<circle cx="198.2" cy="277.3" r="1.95"/>
<circle cx="200.4" cy="294.8" r="1.95"/>
<circle cx="202.5" cy="311.2" r="1.95"/>
<circle cx="204.7" cy="328.5" r="1.95"/>
<circle cx="206.8" cy="344.4" r="1.95"/>
<circle cx="209.0" cy="356.8" r="1.95"/>
<circle cx="211.1" cy="366.8" r="1.95"/>
<circle cx="213.3" cy="374.9" r="1.95"/>
<circle cx="215.4" cy="379.9" r="1.95"/>
<circle cx="217.6" cy="384.6" r="1.95"/>
<circle cx="219.7" cy="386.7" r="1.95"/>
<circle cx="221.9" cy="388.9" r="1.95"/>
<circle cx="224.0" cy="390.1" r="1.95"/>
<circle cx="226.2" cy="390.3" r="1.95"/>
<circle cx="228.3" cy="390.7" r="1.95"/>
<circle cx="230.5" cy="391.2" r="1.95"/>
<circle cx="232.6" cy="392.3" r="1.95"/>
<circle cx="234.8" cy="392.5" r="1.95"/>
<circle cx="236.9" cy="391.3" r="1.95"/>
<circle cx="239.1" cy="393.2" r="1.95"/>
<circle cx="241.2" cy="392.4" r="1.95"/>
<circle cx="243.4" cy="391.4" r="1.95"/>
<circle cx="245.5" cy="392.6" r="1.95"/>
<circle cx="247.7" cy="392.2" r="1.95"/>
<circle cx="249.8" cy="392.5" r="1.95"/>
<circle cx="252.0" cy="391.9" r="1.95"/>
<circle cx="254.1" cy="391.5" r="1.95"/>
<circle cx="256.3" cy="393.2" r="1.95"/>
<circle cx="258.4" cy="392.4" r="1.95"/>
<circle cx="260.6" cy="391.4" r="1.95"/>
<circle cx="262.7" cy="392.4" r="1.95"/>
<circle cx="264.9" cy="391.2" r="1.95"/>
<circle cx="267.0" cy="392.7" r="1.95"/>
<circle cx="269.2" cy="392.2" r="1.95"/>
<circle cx="271.3" cy="392.9" r="1.95"/>
</g>
<path d="M33.80,392.00 L34.30,392.00 L34.80,392.00 L35.30,392.00 L35.80,392.00 L36.30,392.00 L36.80,392.00 L37.30,392.00 L37.80,392.00 L38.30,392.00 L38.80,392.00 L39.30,392.00 L39.80,392.00 L40.30,392.00 L40.80,392.00 L41.30,392.00 L41.80,392.00 L42.30,392.00 L42.80,392.00 L43.30,392.00 L43.80,392.00 L44.30,392.00 L44.80,392.00 L45.30,392.00 L45.80,392.00 L46.30,392.00 L46.80,392.00 L47.30,392.00 L47.80,392.00 L48.30,392.00 L48.80,392.00 L49.30,392.00 L49.80,392.00 L50.30,392.00 L50.80,392.00 L51.30,392.00 L51.80,392.00 L52.30,392.00 L52.80,392.00 L53.30,392.00 L53.80,392.00 L54.30,392.00 L54.80,392.00 L55.30,392.00 L55.80,392.00 L56.30,392.00 L56.80,392.00 L57.30,392.00 L57.80,392.00 L58.30,392.00 L58.80,392.00 L59.30,392.00 L59.80,392.00 L60.30,392.00 L60.80,392.00 L61.30,392.00 L61.80,392.00 L62.30,392.00 L62.80,392.00 L63.30,392.00 L63.80,392.00 L64.30,392.00 L64.80,392.00 L65.30,392.00 L65.80,392.00 L66.30,392.00 L66.80,392.00 L67.30,392.00 L67.80,392.00 L68.30,392.00 L68.80,392.00 L69.30,392.00 L69.80,392.00 L70.30,392.00 L70.80,392.00 L71.30,392.00 L71.80,392.00 L72.30,392.00 L72.80,392.00 L73.30,392.00 L73.80,392.00 L74.30,392.00 L74.80,392.00 L75.30,392.00 L75.80,392.00 L76.30,392.00 L76.80,392.00 L77.30,392.00 L77.80,392.00 L78.30,392.00 L78.80,392.00 L79.30,392.00 L79.80,392.00 L80.30,392.00 L80.80,392.00 L81.30,392.00 L81.80,392.00 L82.30,392.00 L82.80,392.00 L83.30,392.00 L83.80,392.00 L84.30,392.00 L84.80,392.00 L85.30,392.00 L85.80,392.00 L86.30,392.00 L86.80,392.00 L87.30,392.00 L87.80,392.00 L88.30,392.00 L88.80,392.00 L89.30,392.00 L89.80,392.00 L90.30,392.00 L90.80,392.00 L91.30,392.00 L91.80,392.00 L92.30,392.00 L92.80,392.00 L93.30,392.00 L93.80,392.00 L94.30,392.00 L94.80,392.00 L95.30,392.00 L95.80,392.00 L96.30,392.00 L96.80,392.00 L97.30,392.00 L97.80,392.00 L98.30,392.00 L98.80,392.00 L99.30,392.00 L99.80,392.00 L100.30,392.00 L100.80,392.00 L101.30,392.00 L101.80,392.00 L102.30,392.00 L102.80,392.00 L103.30,392.00 L103.80,392.00 L104.30,392.00 L104.80,392.00 L105.30,392.00 L105.80,392.00 L106.30,392.00 L106.80,392.00 L107.30,392.00 L107.80,392.00 L108.30,392.00 L108.80,392.00 L109.30,392.00 L109.80,392.00 L110.30,392.00 L110.80,392.00 L111.30,392.00 L111.80,392.00 L112.30,392.00 L112.80,392.00 L113.30,392.00 L113.80,392.00 L114.30,392.00 L114.80,392.00 L115.30,392.00 L115.80,392.00 L116.30,392.00 L116.80,392.00 L117.30,392.00 L117.80,392.00 L118.30,392.00 L118.80,392.00 L119.30,392.00 L119.80,392.00 L120.30,392.00 L120.80,392.00 L121.30,392.00 L121.80,392.00 L122.30,392.00 L122.80,392.00 L123.30,392.00 L123.80,392.00 L124.30,392.00 L124.80,392.00 L125.30,392.00 L125.80,392.00 L126.30,392.00 L126.80,392.00 L127.30,392.00 L127.80,392.00 L128.30,392.00 L128.80,392.00 L129.30,392.00 L129.80,392.00 L130.30,392.00 L130.80,392.00 L131.30,392.00 L131.80,392.00 L132.30,392.00 L132.80,392.00 L133.30,392.00 L133.80,392.00 L134.30,392.00 L134.80,392.00 L135.30,392.00 L135.80,392.00 L136.30,392.00 L136.80,392.00 L137.30,392.00 L137.80,392.00 L138.30,392.00 L138.80,392.00 L139.30,392.00 L139.80,392.00 L140.30,392.00 L140.80,392.00 L141.30,392.00 L141.80,392.00 L142.30,392.00 L142.80,392.00 L143.30,392.00 L143.80,392.00 L144.30,392.00 L144.80,391.99 L145.30,391.99 L145.80,391.99 L146.30,391.99 L146.80,391.99 L147.30,391.98 L147.80,391.98 L148.30,391.97 L148.80,391.97 L149.30,391.96 L149.80,391.95 L150.30,391.94 L150.80,391.93 L151.30,391.92 L151.80,391.90 L152.30,391.88 L152.80,391.86 L153.30,391.83 L153.80,391.80 L154.30,391.76 L154.80,391.72 L155.30,391.67 L155.80,391.61 L156.30,391.54 L156.80,391.46 L157.30,391.37 L157.80,391.26 L158.30,391.14 L158.80,391.00 L159.30,390.84 L159.80,390.66 L160.30,390.45 L160.80,390.21 L161.30,389.94 L161.80,389.64 L162.30,389.30 L162.80,388.91 L163.30,388.48 L163.80,388.00 L164.30,387.46 L164.80,386.86 L165.30,386.19 L165.80,385.46 L166.30,384.65 L166.80,383.75 L167.30,382.77 L167.80,381.70 L168.30,380.53 L168.80,379.25 L169.30,377.86 L169.80,376.36 L170.30,374.74 L170.80,372.99 L171.30,371.12 L171.80,369.11 L172.30,366.96 L172.80,364.68 L173.30,362.26 L173.80,359.70 L174.30,357.00 L174.80,354.15 L175.30,351.17 L175.80,348.06 L176.30,344.82 L176.80,341.45 L177.30,337.97 L177.80,334.38 L178.30,330.69 L178.80,326.92 L179.30,323.07 L179.80,319.16 L180.30,315.20 L180.80,311.22 L181.30,307.22 L181.80,303.23 L182.30,299.26 L182.80,295.34 L183.30,291.48 L183.80,287.70 L184.30,284.03 L184.80,280.49 L185.30,277.10 L185.80,273.87 L186.30,270.83 L186.80,268.00 L187.30,265.39 L187.80,263.02 L188.30,260.90 L188.80,259.06 L189.30,257.50 L189.80,256.23 L190.30,255.26 L190.80,254.60 L191.30,254.26 L191.80,254.23 L192.30,254.51 L192.80,255.11 L193.30,256.01 L193.80,257.22 L194.30,258.72 L194.80,260.51 L195.30,262.57 L195.80,264.89 L196.30,267.46 L196.80,270.25 L197.30,273.25 L197.80,276.44 L198.30,279.80 L198.80,283.32 L199.30,286.96 L199.80,290.72 L200.30,294.56 L200.80,298.47 L201.30,302.43 L201.80,306.42 L202.30,310.42 L202.80,314.41 L203.30,318.37 L203.80,322.29 L204.30,326.15 L204.80,329.95 L205.30,333.65 L205.80,337.26 L206.30,340.77 L206.80,344.16 L207.30,347.42 L207.80,350.56 L208.30,353.57 L208.80,356.44 L209.30,359.17 L209.80,361.76 L210.30,364.21 L210.80,366.52 L211.30,368.69 L211.80,370.73 L212.30,372.63 L212.80,374.40 L213.30,376.05 L213.80,377.57 L214.30,378.98 L214.80,380.28 L215.30,381.47 L215.80,382.57 L216.30,383.56 L216.80,384.48 L217.30,385.30 L217.80,386.05 L218.30,386.73 L218.80,387.34 L219.30,387.89 L219.80,388.39 L220.30,388.83 L220.80,389.22 L221.30,389.57 L221.80,389.88 L222.30,390.16 L222.80,390.40 L223.30,390.62 L223.80,390.80 L224.30,390.97 L224.80,391.11 L225.30,391.24 L225.80,391.35 L226.30,391.44 L226.80,391.53 L227.30,391.60 L227.80,391.66 L228.30,391.71 L228.80,391.76 L229.30,391.79 L229.80,391.83 L230.30,391.86 L230.80,391.88 L231.30,391.90 L231.80,391.92 L232.30,391.93 L232.80,391.94 L233.30,391.95 L233.80,391.96 L234.30,391.97 L234.80,391.97 L235.30,391.98 L235.80,391.98 L236.30,391.99 L236.80,391.99 L237.30,391.99 L237.80,391.99 L238.30,391.99 L238.80,391.99 L239.30,392.00 L239.80,392.00 L240.30,392.00 L240.80,392.00 L241.30,392.00 L241.80,392.00 L242.30,392.00 L242.80,392.00 L243.30,392.00 L243.80,392.00 L244.30,392.00 L244.80,392.00 L245.30,392.00 L245.80,392.00 L246.30,392.00 L246.80,392.00 L247.30,392.00 L247.80,392.00 L248.30,392.00 L248.80,392.00 L249.30,392.00 L249.80,392.00 L250.30,392.00 L250.80,392.00 L251.30,392.00 L251.80,392.00 L252.30,392.00 L252.80,392.00 L253.30,392.00 L253.80,392.00 L254.30,392.00 L254.80,392.00 L255.30,392.00 L255.80,392.00 L256.30,392.00 L256.80,392.00 L257.30,392.00 L257.80,392.00 L258.30,392.00 L258.80,392.00 L259.30,392.00 L259.80,392.00 L260.30,392.00 L260.80,392.00 L261.30,392.00 L261.80,392.00 L262.30,392.00 L262.80,392.00 L263.30,392.00 L263.80,392.00 L264.30,392.00 L264.80,392.00 L265.30,392.00 L265.80,392.00 L266.30,392.00 L266.80,392.00 L267.30,392.00 L267.80,392.00 L268.30,392.00 L268.80,392.00 L269.30,392.00 L269.80,392.00 L270.30,392.00 L270.80,392.00 L271.30,392.00 L271.80,392.00 L272.30,392.00 L272.80,392.00" fill="none" stroke="#f00" stroke-width="1.7"/>
<path d="M33.80,392.00 L34.30,392.00 L34.80,392.00 L35.30,392.00 L35.80,392.00 L36.30,392.00 L36.80,392.00 L37.30,392.00 L37.80,392.00 L38.30,392.00 L38.80,392.00 L39.30,392.00 L39.80,392.00 L40.30,392.00 L40.80,392.00 L41.30,392.00 L41.80,392.00 L42.30,392.00 L42.80,392.00 L43.30,392.00 L43.80,392.00 L44.30,392.00 L44.80,392.00 L45.30,392.00 L45.80,392.00 L46.30,392.00 L46.80,392.00 L47.30,392.00 L47.80,392.00 L48.30,392.00 L48.80,392.00 L49.30,392.00 L49.80,392.00 L50.30,392.00 L50.80,392.00 L51.30,392.00 L51.80,392.00 L52.30,392.00 L52.80,392.00 L53.30,392.00 L53.80,392.00 L54.30,392.00 L54.80,392.00 L55.30,392.00 L55.80,392.00 L56.30,392.00 L56.80,392.00 L57.30,392.00 L57.80,392.00 L58.30,392.00 L58.80,392.00 L59.30,392.00 L59.80,392.00 L60.30,392.00 L60.80,392.00 L61.30,392.00 L61.80,392.00 L62.30,392.00 L62.80,392.00 L63.30,391.99 L63.80,391.99 L64.30,391.99 L64.80,391.99 L65.30,391.99 L65.80,391.98 L66.30,391.98 L66.80,391.97 L67.30,391.97 L67.80,391.96 L68.30,391.95 L68.80,391.94 L69.30,391.93 L69.80,391.91 L70.30,391.90 L70.80,391.88 L71.30,391.85 L71.80,391.82 L72.30,391.79 L72.80,391.75 L73.30,391.70 L73.80,391.65 L74.30,391.58 L74.80,391.51 L75.30,391.42 L75.80,391.32 L76.30,391.21 L76.80,391.08 L77.30,390.93 L77.80,390.75 L78.30,390.56 L78.80,390.33 L79.30,390.08 L79.80,389.79 L80.30,389.46 L80.80,389.10 L81.30,388.69 L81.80,388.23 L82.30,387.72 L82.80,387.15 L83.30,386.52 L83.80,385.82 L84.30,385.05 L84.80,384.21 L85.30,383.28 L85.80,382.27 L86.30,381.16 L86.80,379.96 L87.30,378.66 L87.80,377.25 L88.30,375.73 L88.80,374.11 L89.30,372.36 L89.80,370.51 L90.30,368.53 L90.80,366.43 L91.30,364.22 L91.80,361.89 L92.30,359.44 L92.80,356.88 L93.30,354.20 L93.80,351.43 L94.30,348.56 L94.80,345.60 L95.30,342.56 L95.80,339.45 L96.30,336.28 L96.80,333.06 L97.30,329.81 L97.80,326.54 L98.30,323.27 L98.80,320.01 L99.30,316.78 L99.80,313.60 L100.30,310.49 L100.80,307.46 L101.30,304.53 L101.80,301.72 L102.30,299.05 L102.80,296.53 L103.30,294.19 L103.80,292.03 L104.30,290.07 L104.80,288.34 L105.30,286.83 L105.80,285.56 L106.30,284.53 L106.80,283.77 L107.30,283.26 L107.80,283.02 L108.30,283.05 L108.80,283.34 L109.30,283.90 L109.80,284.72 L110.30,285.79 L110.80,287.11 L111.30,288.67 L111.80,290.45 L112.30,292.44 L112.80,294.64 L113.30,297.02 L113.80,299.57 L114.30,302.27 L114.80,305.10 L115.30,308.06 L115.80,311.11 L116.30,314.24 L116.80,317.43 L117.30,320.66 L117.80,323.93 L118.30,327.20 L118.80,330.46 L119.30,333.71 L119.80,336.92 L120.30,340.07 L120.80,343.17 L121.30,346.20 L121.80,349.14 L122.30,351.99 L122.80,354.75 L123.30,357.40 L123.80,359.94 L124.30,362.36 L124.80,364.67 L125.30,366.86 L125.80,368.93 L126.30,370.89 L126.80,372.72 L127.30,374.44 L127.80,376.05 L128.30,377.54 L128.80,378.92 L129.30,380.21 L129.80,381.39 L130.30,382.48 L130.80,383.47 L131.30,384.38 L131.80,385.21 L132.30,385.97 L132.80,386.65 L133.30,387.27 L133.80,387.83 L134.30,388.33 L134.80,388.78 L135.30,389.18 L135.80,389.53 L136.30,389.85 L136.80,390.13 L137.30,390.38 L137.80,390.60 L138.30,390.79 L138.80,390.96 L139.30,391.10 L139.80,391.23 L140.30,391.34 L140.80,391.44 L141.30,391.52 L141.80,391.60 L142.30,391.66 L142.80,391.71 L143.30,391.76 L143.80,391.80 L144.30,391.83 L144.80,391.86 L145.30,391.88 L145.80,391.90 L146.30,391.92 L146.80,391.93 L147.30,391.94 L147.80,391.95 L148.30,391.96 L148.80,391.97 L149.30,391.97 L149.80,391.98 L150.30,391.98 L150.80,391.99 L151.30,391.99 L151.80,391.99 L152.30,391.99 L152.80,391.99 L153.30,392.00 L153.80,392.00 L154.30,392.00 L154.80,392.00 L155.30,392.00 L155.80,392.00 L156.30,392.00 L156.80,392.00 L157.30,392.00 L157.80,392.00 L158.30,392.00 L158.80,392.00 L159.30,392.00 L159.80,392.00 L160.30,392.00 L160.80,392.00 L161.30,392.00 L161.80,392.00 L162.30,392.00 L162.80,392.00 L163.30,392.00 L163.80,392.00 L164.30,392.00 L164.80,392.00 L165.30,392.00 L165.80,392.00 L166.30,392.00 L166.80,392.00 L167.30,392.00 L167.80,392.00 L168.30,392.00 L168.80,392.00 L169.30,392.00 L169.80,392.00 L170.30,392.00 L170.80,392.00 L171.30,392.00 L171.80,392.00 L172.30,392.00 L172.80,392.00 L173.30,392.00 L173.80,392.00 L174.30,392.00 L174.80,392.00 L175.30,392.00 L175.80,392.00 L176.30,392.00 L176.80,392.00 L177.30,392.00 L177.80,392.00 L178.30,392.00 L178.80,392.00 L179.30,392.00 L179.80,392.00 L180.30,392.00 L180.80,392.00 L181.30,392.00 L181.80,392.00 L182.30,392.00 L182.80,392.00 L183.30,392.00 L183.80,392.00 L184.30,392.00 L184.80,392.00 L185.30,392.00 L185.80,392.00 L186.30,392.00 L186.80,392.00 L187.30,392.00 L187.80,392.00 L188.30,392.00 L188.80,392.00 L189.30,392.00 L189.80,392.00 L190.30,392.00 L190.80,392.00 L191.30,392.00 L191.80,392.00 L192.30,392.00 L192.80,392.00 L193.30,392.00 L193.80,392.00 L194.30,392.00 L194.80,392.00 L195.30,392.00 L195.80,392.00 L196.30,392.00 L196.80,392.00 L197.30,392.00 L197.80,392.00 L198.30,392.00 L198.80,392.00 L199.30,392.00 L199.80,392.00 L200.30,392.00 L200.80,392.00 L201.30,392.00 L201.80,392.00 L202.30,392.00 L202.80,392.00 L203.30,392.00 L203.80,392.00 L204.30,392.00 L204.80,392.00 L205.30,392.00 L205.80,392.00 L206.30,392.00 L206.80,392.00 L207.30,392.00 L207.80,392.00 L208.30,392.00 L208.80,392.00 L209.30,392.00 L209.80,392.00 L210.30,392.00 L210.80,392.00 L211.30,392.00 L211.80,392.00 L212.30,392.00 L212.80,392.00 L213.30,392.00 L213.80,392.00 L214.30,392.00 L214.80,392.00 L215.30,392.00 L215.80,392.00 L216.30,392.00 L216.80,392.00 L217.30,392.00 L217.80,392.00 L218.30,392.00 L218.80,392.00 L219.30,392.00 L219.80,392.00 L220.30,392.00 L220.80,392.00 L221.30,392.00 L221.80,392.00 L222.30,392.00 L222.80,392.00 L223.30,392.00 L223.80,392.00 L224.30,392.00 L224.80,392.00 L225.30,392.00 L225.80,392.00 L226.30,392.00 L226.80,392.00 L227.30,392.00 L227.80,392.00 L228.30,392.00 L228.80,392.00 L229.30,392.00 L229.80,392.00 L230.30,392.00 L230.80,392.00 L231.30,392.00 L231.80,392.00 L232.30,392.00 L232.80,392.00 L233.30,392.00 L233.80,392.00 L234.30,392.00 L234.80,392.00 L235.30,392.00 L235.80,392.00 L236.30,392.00 L236.80,392.00 L237.30,392.00 L237.80,392.00 L238.30,392.00 L238.80,392.00 L239.30,392.00 L239.80,392.00 L240.30,392.00 L240.80,392.00 L241.30,392.00 L241.80,392.00 L242.30,392.00 L242.80,392.00 L243.30,392.00 L243.80,392.00 L244.30,392.00 L244.80,392.00 L245.30,392.00 L245.80,392.00 L246.30,392.00 L246.80,392.00 L247.30,392.00 L247.80,392.00 L248.30,392.00 L248.80,392.00 L249.30,392.00 L249.80,392.00 L250.30,392.00 L250.80,392.00 L251.30,392.00 L251.80,392.00 L252.30,392.00 L252.80,392.00 L253.30,392.00 L253.80,392.00 L254.30,392.00 L254.80,392.00 L255.30,392.00 L255.80,392.00 L256.30,392.00 L256.80,392.00 L257.30,392.00 L257.80,392.00 L258.30,392.00 L258.80,392.00 L259.30,392.00 L259.80,392.00 L260.30,392.00 L260.80,392.00 L261.30,392.00 L261.80,392.00 L262.30,392.00 L262.80,392.00 L263.30,392.00 L263.80,392.00 L264.30,392.00 L264.80,392.00 L265.30,392.00 L265.80,392.00 L266.30,392.00 L266.80,392.00 L267.30,392.00 L267.80,392.00 L268.30,392.00 L268.80,392.00 L269.30,392.00 L269.80,392.00 L270.30,392.00 L270.80,392.00 L271.30,392.00 L271.80,392.00 L272.30,392.00 L272.80,392.00" fill="none" stroke="#00f" stroke-width="1.7"/>
<rect x="33.3" y="233.0" width="240.10" height="177.10" fill="none" stroke="#000" stroke-width="1.5"/>
<line x1="33.30" y1="410.1" x2="33.30" y2="413.90" stroke="#000" stroke-width="1.3"/>
<line x1="67.60" y1="410.1" x2="67.60" y2="413.90" stroke="#000" stroke-width="1.3"/>
<line x1="101.90" y1="410.1" x2="101.90" y2="413.90" stroke="#000" stroke-width="1.3"/>
<line x1="136.20" y1="410.1" x2="136.20" y2="413.90" stroke="#000" stroke-width="1.3"/>
<line x1="170.50" y1="410.1" x2="170.50" y2="413.90" stroke="#000" stroke-width="1.3"/>
<line x1="204.80" y1="410.1" x2="204.80" y2="413.90" stroke="#000" stroke-width="1.3"/>
<line x1="239.10" y1="410.1" x2="239.10" y2="413.90" stroke="#000" stroke-width="1.3"/>
<line x1="273.40" y1="410.1" x2="273.40" y2="413.90" stroke="#000" stroke-width="1.3"/>
<line x1="50.45" y1="410.1" x2="50.45" y2="412.40" stroke="#000" stroke-width="1.1"/>
<line x1="84.75" y1="410.1" x2="84.75" y2="412.40" stroke="#000" stroke-width="1.1"/>
<line x1="119.05" y1="410.1" x2="119.05" y2="412.40" stroke="#000" stroke-width="1.1"/>
<line x1="153.35" y1="410.1" x2="153.35" y2="412.40" stroke="#000" stroke-width="1.1"/>
<line x1="187.65" y1="410.1" x2="187.65" y2="412.40" stroke="#000" stroke-width="1.1"/>
<line x1="221.95" y1="410.1" x2="221.95" y2="412.40" stroke="#000" stroke-width="1.1"/>
<line x1="256.25" y1="410.1" x2="256.25" y2="412.40" stroke="#000" stroke-width="1.1"/>
<text x="33.30" y="424.2" font-size="11.5" font-weight="bold" text-anchor="middle">148</text>
<text x="67.60" y="424.2" font-size="11.5" font-weight="bold" text-anchor="middle">146</text>
<text x="101.90" y="424.2" font-size="11.5" font-weight="bold" text-anchor="middle">144</text>
<text x="136.20" y="424.2" font-size="11.5" font-weight="bold" text-anchor="middle">142</text>
<text x="170.50" y="424.2" font-size="11.5" font-weight="bold" text-anchor="middle">140</text>
<text x="204.80" y="424.2" font-size="11.5" font-weight="bold" text-anchor="middle">138</text>
<text x="239.10" y="424.2" font-size="11.5" font-weight="bold" text-anchor="middle">136</text>
<text x="273.40" y="424.2" font-size="11.5" font-weight="bold" text-anchor="middle">134</text>
<text x="153.35" y="445.2" font-size="12" font-weight="bold" text-anchor="middle">Binding energy (eV)</text>
<text transform="translate(14.9,321.6) rotate(-90)" font-size="11.8" font-weight="bold" text-anchor="middle">Intensity (a.u.)</text>
<text x="39.3" y="251.3" font-size="20.5" font-weight="bold">(c)</text>
<text x="239" y="247" font-size="12.3" font-weight="bold">Pb 4f</text>
<text x="180.8" y="245.3" font-size="9.1" font-weight="bold">Pb 4f<tspan font-size="5.9" font-style="italic" dy="3.3">7/2</tspan></text>
<text x="97.2" y="272.6" font-size="9.1" font-weight="bold">Pb 4f<tspan font-size="5.9" font-style="italic" dy="3.3">5/2</tspan></text>
<path d="M304.8,396.2 L543.0,396.2" fill="none" stroke="#f00" stroke-width="1.7"/>
<path d="M304.80,396.20 L305.30,396.20 L305.80,396.20 L306.30,396.20 L306.80,396.20 L307.30,396.20 L307.80,396.20 L308.30,396.20 L308.80,396.20 L309.30,396.20 L309.80,396.20 L310.30,396.20 L310.80,396.20 L311.30,396.20 L311.80,396.20 L312.30,396.20 L312.80,396.20 L313.30,396.20 L313.80,396.20 L314.30,396.20 L314.80,396.20 L315.30,396.20 L315.80,396.20 L316.30,396.20 L316.80,396.20 L317.30,396.20 L317.80,396.20 L318.30,396.20 L318.80,396.20 L319.30,396.20 L319.80,396.20 L320.30,396.20 L320.80,396.20 L321.30,396.20 L321.80,396.20 L322.30,396.20 L322.80,396.20 L323.30,396.20 L323.80,396.20 L324.30,396.20 L324.80,396.20 L325.30,396.20 L325.80,396.20 L326.30,396.20 L326.80,396.20 L327.30,396.20 L327.80,396.20 L328.30,396.20 L328.80,396.20 L329.30,396.20 L329.80,396.20 L330.30,396.20 L330.80,396.20 L331.30,396.20 L331.80,396.20 L332.30,396.20 L332.80,396.20 L333.30,396.20 L333.80,396.20 L334.30,396.20 L334.80,396.20 L335.30,396.20 L335.80,396.20 L336.30,396.20 L336.80,396.20 L337.30,396.20 L337.80,396.20 L338.30,396.20 L338.80,396.20 L339.30,396.20 L339.80,396.20 L340.30,396.20 L340.80,396.20 L341.30,396.20 L341.80,396.20 L342.30,396.20 L342.80,396.20 L343.30,396.20 L343.80,396.20 L344.30,396.20 L344.80,396.20 L345.30,396.20 L345.80,396.20 L346.30,396.20 L346.80,396.20 L347.30,396.20 L347.80,396.20 L348.30,396.20 L348.80,396.20 L349.30,396.20 L349.80,396.20 L350.30,396.20 L350.80,396.20 L351.30,396.20 L351.80,396.20 L352.30,396.20 L352.80,396.20 L353.30,396.20 L353.80,396.20 L354.30,396.20 L354.80,396.20 L355.30,396.20 L355.80,396.20 L356.30,396.20 L356.80,396.20 L357.30,396.20 L357.80,396.20 L358.30,396.20 L358.80,396.20 L359.30,396.20 L359.80,396.20 L360.30,396.20 L360.80,396.20 L361.30,396.20 L361.80,396.20 L362.30,396.20 L362.80,396.20 L363.30,396.20 L363.80,396.20 L364.30,396.20 L364.80,396.20 L365.30,396.20 L365.80,396.20 L366.30,396.20 L366.80,396.20 L367.30,396.20 L367.80,396.20 L368.30,396.20 L368.80,396.20 L369.30,396.20 L369.80,396.20 L370.30,396.20 L370.80,396.20 L371.30,396.20 L371.80,396.20 L372.30,396.20 L372.80,396.20 L373.30,396.20 L373.80,396.20 L374.30,396.20 L374.80,396.20 L375.30,396.20 L375.80,396.20 L376.30,396.20 L376.80,396.20 L377.30,396.20 L377.80,396.20 L378.30,396.20 L378.80,396.20 L379.30,396.20 L379.80,396.20 L380.30,396.20 L380.80,396.20 L381.30,396.20 L381.80,396.20 L382.30,396.20 L382.80,396.20 L383.30,396.20 L383.80,396.20 L384.30,396.20 L384.80,396.20 L385.30,396.20 L385.80,396.20 L386.30,396.20 L386.80,396.20 L387.30,396.20 L387.80,396.20 L388.30,396.20 L388.80,396.20 L389.30,396.20 L389.80,396.20 L390.30,396.20 L390.80,396.20 L391.30,396.20 L391.80,396.20 L392.30,396.20 L392.80,396.20 L393.30,396.20 L393.80,396.20 L394.30,396.20 L394.80,396.20 L395.30,396.20 L395.80,396.20 L396.30,396.20 L396.80,396.20 L397.30,396.20 L397.80,396.20 L398.30,396.20 L398.80,396.20 L399.30,396.20 L399.80,396.20 L400.30,396.20 L400.80,396.20 L401.30,396.20 L401.80,396.20 L402.30,396.20 L402.80,396.20 L403.30,396.20 L403.80,396.20 L404.30,396.20 L404.80,396.20 L405.30,396.20 L405.80,396.20 L406.30,396.20 L406.80,396.20 L407.30,396.20 L407.80,396.20 L408.30,396.20 L408.80,396.20 L409.30,396.20 L409.80,396.20 L410.30,396.20 L410.80,396.20 L411.30,396.20 L411.80,396.20 L412.30,396.20 L412.80,396.20 L413.30,396.20 L413.80,396.20 L414.30,396.20 L414.80,396.20 L415.30,396.20 L415.80,396.20 L416.30,396.20 L416.80,396.20 L417.30,396.20 L417.80,396.20 L418.30,396.20 L418.80,396.20 L419.30,396.20 L419.80,396.20 L420.30,396.20 L420.80,396.20 L421.30,396.20 L421.80,396.20 L422.30,396.20 L422.80,396.20 L423.30,396.20 L423.80,396.20 L424.30,396.20 L424.80,396.20 L425.30,396.20 L425.80,396.20 L426.30,396.20 L426.80,396.20 L427.30,396.20 L427.80,396.20 L428.30,396.20 L428.80,396.20 L429.30,396.20 L429.80,396.20 L430.30,396.20 L430.80,396.20 L431.30,396.20 L431.80,396.20 L432.30,396.20 L432.80,396.20 L433.30,396.20 L433.80,396.20 L434.30,396.20 L434.80,396.20 L435.30,396.20 L435.80,396.20 L436.30,396.20 L436.80,396.20 L437.30,396.19 L437.80,396.19 L438.30,396.19 L438.80,396.19 L439.30,396.19 L439.80,396.19 L440.30,396.19 L440.80,396.19 L441.30,396.19 L441.80,396.18 L442.30,396.18 L442.80,396.18 L443.30,396.18 L443.80,396.17 L444.30,396.17 L444.80,396.17 L445.30,396.16 L445.80,396.16 L446.30,396.15 L446.80,396.15 L447.30,396.14 L447.80,396.13 L448.30,396.12 L448.80,396.12 L449.30,396.11 L449.80,396.09 L450.30,396.08 L450.80,396.07 L451.30,396.05 L451.80,396.04 L452.30,396.02 L452.80,396.00 L453.30,395.98 L453.80,395.96 L454.30,395.93 L454.80,395.90 L455.30,395.87 L455.80,395.84 L456.30,395.80 L456.80,395.76 L457.30,395.72 L457.80,395.67 L458.30,395.62 L458.80,395.57 L459.30,395.51 L459.80,395.45 L460.30,395.38 L460.80,395.30 L461.30,395.22 L461.80,395.14 L462.30,395.04 L462.80,394.95 L463.30,394.84 L463.80,394.73 L464.30,394.61 L464.80,394.48 L465.30,394.34 L465.80,394.19 L466.30,394.04 L466.80,393.87 L467.30,393.69 L467.80,393.51 L468.30,393.31 L468.80,393.10 L469.30,392.88 L469.80,392.65 L470.30,392.41 L470.80,392.15 L471.30,391.88 L471.80,391.60 L472.30,391.30 L472.80,390.99 L473.30,390.67 L473.80,390.33 L474.30,389.98 L474.80,389.62 L475.30,389.24 L475.80,388.84 L476.30,388.43 L476.80,388.01 L477.30,387.58 L477.80,387.13 L478.30,386.66 L478.80,386.18 L479.30,385.69 L479.80,385.19 L480.30,384.68 L480.80,384.15 L481.30,383.62 L481.80,383.07 L482.30,382.51 L482.80,381.95 L483.30,381.37 L483.80,380.79 L484.30,380.21 L484.80,379.61 L485.30,379.02 L485.80,378.42 L486.30,377.82 L486.80,377.22 L487.30,376.62 L487.80,376.02 L488.30,375.43 L488.80,374.84 L489.30,374.25 L489.80,373.68 L490.30,373.11 L490.80,372.55 L491.30,372.01 L491.80,371.48 L492.30,370.96 L492.80,370.46 L493.30,369.97 L493.80,369.51 L494.30,369.06 L494.80,368.64 L495.30,368.24 L495.80,367.86 L496.30,367.51 L496.80,367.18 L497.30,366.88 L497.80,366.61 L498.30,366.36 L498.80,366.15 L499.30,365.96 L499.80,365.81 L500.30,365.68 L500.80,365.59 L501.30,365.53 L501.80,365.50 L502.30,365.51 L502.80,365.54 L503.30,365.61 L503.80,365.71 L504.30,365.84 L504.80,366.00 L505.30,366.19 L505.80,366.41 L506.30,366.66 L506.80,366.94 L507.30,367.24 L507.80,367.58 L508.30,367.93 L508.80,368.32 L509.30,368.72 L509.80,369.15 L510.30,369.60 L510.80,370.07 L511.30,370.56 L511.80,371.06 L512.30,371.58 L512.80,372.12 L513.30,372.66 L513.80,373.22 L514.30,373.79 L514.80,374.37 L515.30,374.95 L515.80,375.55 L516.30,376.14 L516.80,376.74 L517.30,377.34 L517.80,377.94 L518.30,378.54 L518.80,379.14 L519.30,379.73 L519.80,380.32 L520.30,380.91 L520.80,381.49 L521.30,382.06 L521.80,382.62 L522.30,383.18 L522.80,383.72 L523.30,384.26 L523.80,384.78 L524.30,385.29 L524.80,385.79 L525.30,386.28 L525.80,386.76 L526.30,387.22 L526.80,387.66 L527.30,388.10 L527.80,388.52 L528.30,388.92 L528.80,389.31 L529.30,389.69 L529.80,390.05 L530.30,390.40 L530.80,390.74 L531.30,391.06 L531.80,391.36 L532.30,391.66 L532.80,391.94 L533.30,392.20 L533.80,392.46 L534.30,392.70 L534.80,392.93 L535.30,393.15 L535.80,393.35 L536.30,393.55 L536.80,393.73 L537.30,393.90 L537.80,394.07 L538.30,394.22 L538.80,394.37 L539.30,394.50 L539.80,394.63 L540.30,394.75 L540.80,394.86 L541.30,394.97 L541.80,395.06 L542.30,395.15 L542.80,395.24" fill="none" stroke="#0f0" stroke-width="1.7"/>
<path d="M445.30,395.98 L445.80,395.95 L446.30,395.92 L446.80,395.88 L447.30,395.84 L447.80,395.80 L448.30,395.75 L448.80,395.69 L449.30,395.63 L449.80,395.56 L450.30,395.49 L450.80,395.40 L451.30,395.31 L451.80,395.22 L452.30,395.11 L452.80,394.99 L453.30,394.87 L453.80,394.73 L454.30,394.58 L454.80,394.42 L455.30,394.24 L455.80,394.06 L456.30,393.86 L456.80,393.64 L457.30,393.41 L457.80,393.17 L458.30,392.91 L458.80,392.63 L459.30,392.34 L459.80,392.03 L460.30,391.70 L460.80,391.36 L461.30,390.99 L461.80,390.61 L462.30,390.22 L462.80,389.80 L463.30,389.37 L463.80,388.93 L464.30,388.47 L464.80,387.99 L465.30,387.50 L465.80,386.99 L466.30,386.47 L466.80,385.94 L467.30,385.41 L467.80,384.86 L468.30,384.30 L468.80,383.74 L469.30,383.18 L469.80,382.61 L470.30,382.05 L470.80,381.48 L471.30,380.92 L471.80,380.37 L472.30,379.83 L472.80,379.29 L473.30,378.77 L473.80,378.26 L474.30,377.77 L474.80,377.30 L475.30,376.86 L475.80,376.43 L476.30,376.03 L476.80,375.66 L477.30,375.32 L477.80,375.01 L478.30,374.73 L478.80,374.49 L479.30,374.28 L479.80,374.11 L480.30,373.97 L480.80,373.88 L481.30,373.82 L481.80,373.80 L482.30,373.82 L482.80,373.88 L483.30,373.97 L483.80,374.11 L484.30,374.28 L484.80,374.49 L485.30,374.73 L485.80,375.01 L486.30,375.32 L486.80,375.66 L487.30,376.03 L487.80,376.43 L488.30,376.86 L488.80,377.30 L489.30,377.77 L489.80,378.26 L490.30,378.77 L490.80,379.29 L491.30,379.83 L491.80,380.37 L492.30,380.92 L492.80,381.48 L493.30,382.05 L493.80,382.61 L494.30,383.18 L494.80,383.74 L495.30,384.30 L495.80,384.86 L496.30,385.41 L496.80,385.94 L497.30,386.47 L497.80,386.99 L498.30,387.50 L498.80,387.99 L499.30,388.47 L499.80,388.93 L500.30,389.37 L500.80,389.80 L501.30,390.22 L501.80,390.61 L502.30,390.99 L502.80,391.36 L503.30,391.70 L503.80,392.03 L504.30,392.34 L504.80,392.63 L505.30,392.91 L505.80,393.17 L506.30,393.41 L506.80,393.64 L507.30,393.86 L507.80,394.06 L508.30,394.24 L508.80,394.42 L509.30,394.58 L509.80,394.73 L510.30,394.87 L510.80,394.99 L511.30,395.11 L511.80,395.22 L512.30,395.31 L512.80,395.40 L513.30,395.49 L513.80,395.56 L514.30,395.63 L514.80,395.69 L515.30,395.75 L515.80,395.80 L516.30,395.84 L516.80,395.88 L517.30,395.92 L517.80,395.95 L518.30,395.98 L518.80,396.01 L519.30,396.03 L519.80,396.05 L520.30,396.07 L520.80,396.09 L521.30,396.10 L521.80,396.11 L522.30,396.12 L522.80,396.13 L523.30,396.14 L523.80,396.15 L524.30,396.16 L524.80,396.16 L525.30,396.17 L525.80,396.17 L526.30,396.18 L526.80,396.18 L527.30,396.18 L527.80,396.19 L528.30,396.19 L528.80,396.19 L529.30,396.19 L529.80,396.19 L530.30,396.19 L530.80,396.19 L531.30,396.20 L531.80,396.20 L532.30,396.20 L532.80,396.20 L533.30,396.20 L533.80,396.20 L534.30,396.20 L534.80,396.20 L535.30,396.20 L535.80,396.20 L536.30,396.20 L536.80,396.20 L537.30,396.20 L537.80,396.20 L538.30,396.20 L538.80,396.20 L539.30,396.20 L539.80,396.20 L540.30,396.20 L540.80,396.20 L541.30,396.20 L541.80,396.20 L542.30,396.20 L542.80,396.20" fill="none" stroke="#00f" stroke-width="1.7"/>
<path d="M304.80,396.04 L305.30,396.02 L305.80,396.00 L306.30,395.98 L306.80,395.96 L307.30,395.94 L307.80,395.91 L308.30,395.88 L308.80,395.85 L309.30,395.81 L309.80,395.77 L310.30,395.73 L310.80,395.68 L311.30,395.63 L311.80,395.58 L312.30,395.52 L312.80,395.45 L313.30,395.38 L313.80,395.31 L314.30,395.23 L314.80,395.14 L315.30,395.04 L315.80,394.94 L316.30,394.83 L316.80,394.71 L317.30,394.58 L317.80,394.44 L318.30,394.29 L318.80,394.12 L319.30,393.95 L319.80,393.76 L320.30,393.56 L320.80,393.35 L321.30,393.12 L321.80,392.88 L322.30,392.62 L322.80,392.34 L323.30,392.04 L323.80,391.73 L324.30,391.39 L324.80,391.03 L325.30,390.65 L325.80,390.25 L326.30,389.82 L326.80,389.37 L327.30,388.89 L327.80,388.38 L328.30,387.85 L328.80,387.28 L329.30,386.69 L329.80,386.06 L330.30,385.40 L330.80,384.70 L331.30,383.97 L331.80,383.21 L332.30,382.40 L332.80,381.56 L333.30,380.68 L333.80,379.76 L334.30,378.80 L334.80,377.79 L335.30,376.75 L335.80,375.66 L336.30,374.52 L336.80,373.34 L337.30,372.12 L337.80,370.85 L338.30,369.53 L338.80,368.17 L339.30,366.76 L339.80,365.30 L340.30,363.79 L340.80,362.24 L341.30,360.65 L341.80,359.00 L342.30,357.32 L342.80,355.58 L343.30,353.80 L343.80,351.98 L344.30,350.12 L344.80,348.22 L345.30,346.27 L345.80,344.29 L346.30,342.27 L346.80,340.22 L347.30,338.13 L347.80,336.01 L348.30,333.87 L348.80,331.70 L349.30,329.50 L349.80,327.28 L350.30,325.05 L350.80,322.80 L351.30,320.54 L351.80,318.27 L352.30,315.99 L352.80,313.71 L353.30,311.43 L353.80,309.16 L354.30,306.90 L354.80,304.65 L355.30,302.41 L355.80,300.20 L356.30,298.01 L356.80,295.85 L357.30,293.72 L357.80,291.63 L358.30,289.58 L358.80,287.57 L359.30,285.61 L359.80,283.71 L360.30,281.86 L360.80,280.07 L361.30,278.34 L361.80,276.68 L362.30,275.10 L362.80,273.59 L363.30,272.15 L363.80,270.80 L364.30,269.53 L364.80,268.35 L365.30,267.26 L365.80,266.26 L366.30,265.35 L366.80,264.54 L367.30,263.83 L367.80,263.22 L368.30,262.71 L368.80,262.31 L369.30,262.00 L369.80,261.80 L370.30,261.71 L370.80,261.72 L371.30,261.85 L371.80,262.08 L372.30,262.43 L372.80,262.90 L373.30,263.47 L373.80,264.15 L374.30,264.94 L374.80,265.84 L375.30,266.84 L375.80,267.94 L376.30,269.13 L376.80,270.43 L377.30,271.81 L377.80,273.28 L378.30,274.84 L378.80,276.48 L379.30,278.20 L379.80,279.99 L380.30,281.85 L380.80,283.78 L381.30,285.76 L381.80,287.81 L382.30,289.90 L382.80,292.05 L383.30,294.23 L383.80,296.46 L384.30,298.71 L384.80,301.00 L385.30,303.31 L385.80,305.65 L386.30,308.00 L386.80,310.36 L387.30,312.72 L387.80,315.10 L388.30,317.47 L388.80,319.83 L389.30,322.19 L389.80,324.53 L390.30,326.86 L390.80,329.17 L391.30,331.46 L391.80,333.72 L392.30,335.96 L392.80,338.16 L393.30,340.33 L393.80,342.47 L394.30,344.56 L394.80,346.62 L395.30,348.63 L395.80,350.61 L396.30,352.53 L396.80,354.41 L397.30,356.25 L397.80,358.03 L398.30,359.77 L398.80,361.45 L399.30,363.09 L399.80,364.68 L400.30,366.21 L400.80,367.70 L401.30,369.13 L401.80,370.51 L402.30,371.85 L402.80,373.13 L403.30,374.36 L403.80,375.55 L404.30,376.68 L404.80,377.77 L405.30,378.82 L405.80,379.82 L406.30,380.77 L406.80,381.68 L407.30,382.55 L407.80,383.37 L408.30,384.16 L408.80,384.91 L409.30,385.61 L409.80,386.29 L410.30,386.92 L410.80,387.53 L411.30,388.10 L411.80,388.63 L412.30,389.14 L412.80,389.62 L413.30,390.07 L413.80,390.49 L414.30,390.89 L414.80,391.26 L415.30,391.61 L415.80,391.93 L416.30,392.24 L416.80,392.52 L417.30,392.79 L417.80,393.03 L418.30,393.26 L418.80,393.47 L419.30,393.67 L419.80,393.85 L420.30,394.01 L420.80,394.17 L421.30,394.31 L421.80,394.43 L422.30,394.55 L422.80,394.66 L423.30,394.75 L423.80,394.84 L424.30,394.91 L424.80,394.98 L425.30,395.04 L425.80,395.09 L426.30,395.13 L426.80,395.17 L427.30,395.19 L427.80,395.22 L428.30,395.23 L428.80,395.24 L429.30,395.24 L429.80,395.24 L430.30,395.23 L430.80,395.22 L431.30,395.20 L431.80,395.17 L432.30,395.14 L432.80,395.11 L433.30,395.07 L433.80,395.02 L434.30,394.97 L434.80,394.92 L435.30,394.85 L435.80,394.79 L436.30,394.71 L436.80,394.64 L437.30,394.55 L437.80,394.47 L438.30,394.37 L438.80,394.27 L439.30,394.17 L439.80,394.05 L440.30,393.94 L440.80,393.81 L441.30,393.68 L441.80,393.54 L442.30,393.40 L442.80,393.25 L443.30,393.09 L443.80,392.92 L444.30,392.75 L444.80,392.57 L445.30,392.38 L445.80,392.18 L446.30,391.98 L446.80,391.76 L447.30,391.54 L447.80,391.31 L448.30,391.07 L448.80,390.82 L449.30,390.56 L449.80,390.30 L450.30,390.02 L450.80,389.74 L451.30,389.44 L451.80,389.14 L452.30,388.82 L452.80,388.50 L453.30,388.16 L453.80,387.82 L454.30,387.46 L454.80,387.10 L455.30,386.72 L455.80,386.34 L456.30,385.94 L456.80,385.54 L457.30,385.12 L457.80,384.70 L458.30,384.26 L458.80,383.81 L459.30,383.36 L459.80,382.90 L460.30,382.42 L460.80,381.94 L461.30,381.45 L461.80,380.95 L462.30,380.44 L462.80,379.92 L463.30,379.39 L463.80,378.86 L464.30,378.32 L464.80,377.78 L465.30,377.22 L465.80,376.66 L466.30,376.10 L466.80,375.53 L467.30,374.95 L467.80,374.37 L468.30,373.79 L468.80,373.21 L469.30,372.62 L469.80,372.03 L470.30,371.44 L470.80,370.84 L471.30,370.25 L471.80,369.66 L472.30,369.07 L472.80,368.48 L473.30,367.89 L473.80,367.31 L474.30,366.73 L474.80,366.16 L475.30,365.59 L475.80,365.03 L476.30,364.47 L476.80,363.92 L477.30,363.38 L477.80,362.85 L478.30,362.33 L478.80,361.82 L479.30,361.32 L479.80,360.83 L480.30,360.35 L480.80,359.89 L481.30,359.44 L481.80,359.01 L482.30,358.59 L482.80,358.18 L483.30,357.80 L483.80,357.43 L484.30,357.08 L484.80,356.74 L485.30,356.43 L485.80,356.13 L486.30,355.86 L486.80,355.60 L487.30,355.37 L487.80,355.15 L488.30,354.96 L488.80,354.78 L489.30,354.63 L489.80,354.51 L490.30,354.40 L490.80,354.32 L491.30,354.25 L491.80,354.22 L492.30,354.20 L492.80,354.21 L493.30,354.25 L493.80,354.31 L494.30,354.41 L494.80,354.53 L495.30,354.68 L495.80,354.85 L496.30,355.06 L496.80,355.29 L497.30,355.55 L497.80,355.83 L498.30,356.14 L498.80,356.47 L499.30,356.83 L499.80,357.21 L500.30,357.61 L500.80,358.03 L501.30,358.48 L501.80,358.94 L502.30,359.43 L502.80,359.93 L503.30,360.45 L503.80,360.99 L504.30,361.54 L504.80,362.11 L505.30,362.69 L505.80,363.28 L506.30,363.88 L506.80,364.50 L507.30,365.12 L507.80,365.75 L508.30,366.39 L508.80,367.04 L509.30,367.69 L509.80,368.34 L510.30,369.00 L510.80,369.66 L511.30,370.33 L511.80,370.99 L512.30,371.65 L512.80,372.32 L513.30,372.98 L513.80,373.63 L514.30,374.29 L514.80,374.93 L515.30,375.58 L515.80,376.21 L516.30,376.85 L516.80,377.47 L517.30,378.09 L517.80,378.69 L518.30,379.29 L518.80,379.88 L519.30,380.46 L519.80,381.03 L520.30,381.59 L520.80,382.13 L521.30,382.67 L521.80,383.20 L522.30,383.71 L522.80,384.21 L523.30,384.70 L523.80,385.17 L524.30,385.64 L524.80,386.09 L525.30,386.52 L525.80,386.95 L526.30,387.36 L526.80,387.76 L527.30,388.15 L527.80,388.53 L528.30,388.89 L528.80,389.24 L529.30,389.57 L529.80,389.90 L530.30,390.21 L530.80,390.52 L531.30,390.81 L531.80,391.09 L532.30,391.35 L532.80,391.61 L533.30,391.86 L533.80,392.09 L534.30,392.32 L534.80,392.53 L535.30,392.74 L535.80,392.94 L536.30,393.12 L536.80,393.30 L537.30,393.47 L537.80,393.63 L538.30,393.79 L538.80,393.94 L539.30,394.07 L539.80,394.21 L540.30,394.33 L540.80,394.45 L541.30,394.56 L541.80,394.67 L542.30,394.77 L542.80,394.86" fill="none" stroke="#ff7f00" stroke-width="1.7"/>
<path d="M305.00,393.80 L307.20,389.60 L309.50,400.20 L311.70,385.00 L314.30,383.00 L316.50,386.10 L318.90,389.80 L321.10,389.80 L323.40,391.00 L325.60,397.50 L326.10,402.70 L328.30,395.20 L330.00,377.20 L332.60,369.20 L335.00,375.70 L337.30,379.90 L339.70,379.70 L341.90,376.40 L344.20,370.10 L346.40,361.00 L349.10,344.40 L351.20,328.40 L353.20,310.10 L355.50,311.10 L357.60,317.60 L359.80,318.50 L361.20,319.40 L362.40,311.50 L364.70,301.20 L367.00,297.90 L369.50,281.50 L371.80,267.70 L374.10,258.90 L376.20,273.00 L378.50,286.80 L380.90,307.60 L383.40,325.50 L385.50,340.30 L388.30,339.00 L390.60,343.00 L394.80,356.20 L397.50,359.70 L401.00,361.50 L404.20,382.10 L406.10,385.30 L408.20,366.80 L410.50,351.40 L413.20,348.60 L415.60,365.50 L417.90,380.90 L420.20,391.50 L422.00,375.10 L425.00,373.30 L427.10,390.20 L429.40,398.50 L432.10,399.00 L434.70,399.00 L437.40,399.00 L440.00,397.60 L442.60,389.70 L445.60,374.40 L447.90,374.70 L450.10,381.80 L452.30,378.20 L454.40,371.20 L456.70,359.20 L458.80,366.20 L461.10,372.10 L463.20,382.10 L465.90,361.50 L468.50,357.90 L470.80,363.20 L472.90,380.90 L475.20,360.20 L477.40,347.40 L479.60,359.70 L481.50,361.50 L483.50,361.00 L487.10,353.20 L489.70,360.20 L492.50,361.50 L495.00,362.40 L496.80,372.90 L498.90,376.00 L501.00,383.00 L503.30,369.40 L505.50,362.00 L507.60,355.60 L510.30,360.20 L512.60,374.70 L514.70,390.60 L516.60,392.00 L518.60,382.60 L521.80,381.40 L524.40,390.60 L527.10,393.80 L530.00,394.00 L532.70,383.20 L535.50,384.40 L538.50,391.00 L541.00,387.00 L542.60,393.00" fill="none" stroke="#000" stroke-width="1.5" stroke-linejoin="round"/>
<g fill="#fff" stroke="#5a5a5a" stroke-width="0.85">
<circle cx="305.0" cy="393.8" r="2.0"/>
<circle cx="307.2" cy="389.6" r="2.0"/>
<circle cx="309.5" cy="400.2" r="2.0"/>
<circle cx="311.7" cy="385.0" r="2.0"/>
<circle cx="314.3" cy="383.0" r="2.0"/>
<circle cx="316.5" cy="386.1" r="2.0"/>
<circle cx="318.9" cy="389.8" r="2.0"/>
<circle cx="321.1" cy="389.8" r="2.0"/>
<circle cx="323.4" cy="391.0" r="2.0"/>
<circle cx="325.6" cy="397.5" r="2.0"/>
<circle cx="326.1" cy="402.7" r="2.0"/>
<circle cx="328.3" cy="395.2" r="2.0"/>
<circle cx="330.0" cy="377.2" r="2.0"/>
<circle cx="332.6" cy="369.2" r="2.0"/>
<circle cx="335.0" cy="375.7" r="2.0"/>
<circle cx="337.3" cy="379.9" r="2.0"/>
<circle cx="339.7" cy="379.7" r="2.0"/>
<circle cx="341.9" cy="376.4" r="2.0"/>
<circle cx="344.2" cy="370.1" r="2.0"/>
<circle cx="346.4" cy="361.0" r="2.0"/>
<circle cx="349.1" cy="344.4" r="2.0"/>
<circle cx="351.2" cy="328.4" r="2.0"/>
<circle cx="353.2" cy="310.1" r="2.0"/>
<circle cx="355.5" cy="311.1" r="2.0"/>
<circle cx="357.6" cy="317.6" r="2.0"/>
<circle cx="359.8" cy="318.5" r="2.0"/>
<circle cx="361.2" cy="319.4" r="2.0"/>
<circle cx="362.4" cy="311.5" r="2.0"/>
<circle cx="364.7" cy="301.2" r="2.0"/>
<circle cx="367.0" cy="297.9" r="2.0"/>
<circle cx="369.5" cy="281.5" r="2.0"/>
<circle cx="371.8" cy="267.7" r="2.0"/>
<circle cx="374.1" cy="258.9" r="2.0"/>
<circle cx="376.2" cy="273.0" r="2.0"/>
<circle cx="378.5" cy="286.8" r="2.0"/>
<circle cx="380.9" cy="307.6" r="2.0"/>
<circle cx="383.4" cy="325.5" r="2.0"/>
<circle cx="385.5" cy="340.3" r="2.0"/>
<circle cx="388.3" cy="339.0" r="2.0"/>
<circle cx="390.6" cy="343.0" r="2.0"/>
<circle cx="394.8" cy="356.2" r="2.0"/>
<circle cx="397.5" cy="359.7" r="2.0"/>
<circle cx="401.0" cy="361.5" r="2.0"/>
<circle cx="404.2" cy="382.1" r="2.0"/>
<circle cx="406.1" cy="385.3" r="2.0"/>
<circle cx="408.2" cy="366.8" r="2.0"/>
<circle cx="410.5" cy="351.4" r="2.0"/>
<circle cx="413.2" cy="348.6" r="2.0"/>
<circle cx="415.6" cy="365.5" r="2.0"/>
<circle cx="417.9" cy="380.9" r="2.0"/>
<circle cx="420.2" cy="391.5" r="2.0"/>
<circle cx="422.0" cy="375.1" r="2.0"/>
<circle cx="425.0" cy="373.3" r="2.0"/>
<circle cx="427.1" cy="390.2" r="2.0"/>
<circle cx="429.4" cy="398.5" r="2.0"/>
<circle cx="432.1" cy="399.0" r="2.0"/>
<circle cx="434.7" cy="399.0" r="2.0"/>
<circle cx="437.4" cy="399.0" r="2.0"/>
<circle cx="440.0" cy="397.6" r="2.0"/>
<circle cx="442.6" cy="389.7" r="2.0"/>
<circle cx="445.6" cy="374.4" r="2.0"/>
<circle cx="447.9" cy="374.7" r="2.0"/>
<circle cx="450.1" cy="381.8" r="2.0"/>
<circle cx="452.3" cy="378.2" r="2.0"/>
<circle cx="454.4" cy="371.2" r="2.0"/>
<circle cx="456.7" cy="359.2" r="2.0"/>
<circle cx="458.8" cy="366.2" r="2.0"/>
<circle cx="461.1" cy="372.1" r="2.0"/>
<circle cx="463.2" cy="382.1" r="2.0"/>
<circle cx="465.9" cy="361.5" r="2.0"/>
<circle cx="468.5" cy="357.9" r="2.0"/>
<circle cx="470.8" cy="363.2" r="2.0"/>
<circle cx="472.9" cy="380.9" r="2.0"/>
<circle cx="475.2" cy="360.2" r="2.0"/>
<circle cx="477.4" cy="347.4" r="2.0"/>
<circle cx="479.6" cy="359.7" r="2.0"/>
<circle cx="481.5" cy="361.5" r="2.0"/>
<circle cx="483.5" cy="361.0" r="2.0"/>
<circle cx="487.1" cy="353.2" r="2.0"/>
<circle cx="489.7" cy="360.2" r="2.0"/>
<circle cx="492.5" cy="361.5" r="2.0"/>
<circle cx="495.0" cy="362.4" r="2.0"/>
<circle cx="496.8" cy="372.9" r="2.0"/>
<circle cx="498.9" cy="376.0" r="2.0"/>
<circle cx="501.0" cy="383.0" r="2.0"/>
<circle cx="503.3" cy="369.4" r="2.0"/>
<circle cx="505.5" cy="362.0" r="2.0"/>
<circle cx="507.6" cy="355.6" r="2.0"/>
<circle cx="510.3" cy="360.2" r="2.0"/>
<circle cx="512.6" cy="374.7" r="2.0"/>
<circle cx="514.7" cy="390.6" r="2.0"/>
<circle cx="516.6" cy="392.0" r="2.0"/>
<circle cx="518.6" cy="382.6" r="2.0"/>
<circle cx="521.8" cy="381.4" r="2.0"/>
<circle cx="524.4" cy="390.6" r="2.0"/>
<circle cx="527.1" cy="393.8" r="2.0"/>
<circle cx="530.0" cy="394.0" r="2.0"/>
<circle cx="532.7" cy="383.2" r="2.0"/>
<circle cx="535.5" cy="384.4" r="2.0"/>
<circle cx="538.5" cy="391.0" r="2.0"/>
<circle cx="541.0" cy="387.0" r="2.0"/>
<circle cx="542.6" cy="393.0" r="2.0"/>
</g>
<rect x="304.2" y="233.3" width="239.40" height="176.90" fill="none" stroke="#000" stroke-width="1.5"/>
<line x1="304.20" y1="410.2" x2="304.20" y2="414.00" stroke="#000" stroke-width="1.3"/>
<line x1="341.03" y1="410.2" x2="341.03" y2="414.00" stroke="#000" stroke-width="1.3"/>
<line x1="377.86" y1="410.2" x2="377.86" y2="414.00" stroke="#000" stroke-width="1.3"/>
<line x1="414.69" y1="410.2" x2="414.69" y2="414.00" stroke="#000" stroke-width="1.3"/>
<line x1="451.52" y1="410.2" x2="451.52" y2="414.00" stroke="#000" stroke-width="1.3"/>
<line x1="488.35" y1="410.2" x2="488.35" y2="414.00" stroke="#000" stroke-width="1.3"/>
<line x1="525.18" y1="410.2" x2="525.18" y2="414.00" stroke="#000" stroke-width="1.3"/>
<line x1="322.62" y1="410.2" x2="322.62" y2="412.50" stroke="#000" stroke-width="1.1"/>
<line x1="359.45" y1="410.2" x2="359.45" y2="412.50" stroke="#000" stroke-width="1.1"/>
<line x1="396.28" y1="410.2" x2="396.28" y2="412.50" stroke="#000" stroke-width="1.1"/>
<line x1="433.11" y1="410.2" x2="433.11" y2="412.50" stroke="#000" stroke-width="1.1"/>
<line x1="469.94" y1="410.2" x2="469.94" y2="412.50" stroke="#000" stroke-width="1.1"/>
<line x1="506.77" y1="410.2" x2="506.77" y2="412.50" stroke="#000" stroke-width="1.1"/>
<line x1="543.60" y1="410.2" x2="543.60" y2="412.50" stroke="#000" stroke-width="1.1"/>
<text x="304.20" y="424.2" font-size="11.5" font-weight="bold" text-anchor="middle">172</text>
<text x="341.03" y="424.2" font-size="11.5" font-weight="bold" text-anchor="middle">170</text>
<text x="377.86" y="424.2" font-size="11.5" font-weight="bold" text-anchor="middle">168</text>
<text x="414.69" y="424.2" font-size="11.5" font-weight="bold" text-anchor="middle">166</text>
<text x="451.52" y="424.2" font-size="11.5" font-weight="bold" text-anchor="middle">164</text>
<text x="488.35" y="424.2" font-size="11.5" font-weight="bold" text-anchor="middle">162</text>
<text x="525.18" y="424.2" font-size="11.5" font-weight="bold" text-anchor="middle">160</text>
<text x="424" y="445.2" font-size="12" font-weight="bold" text-anchor="middle">Binding energy (eV)</text>
<text transform="translate(287.2,322.8) rotate(-90)" font-size="11.8" font-weight="bold" text-anchor="middle">Intensity (a.u.)</text>
<text transform="translate(306.5,251.2) scale(1.1,1)" font-size="20.5" font-weight="bold">(d)</text>
<text x="510.2" y="247.0" font-size="11.6" font-weight="bold">S 2p</text>
<text x="382.0" y="264.6" font-size="9.7" font-weight="bold">S 2p</text>
<text x="382.3" y="275.9" font-size="9.2" font-weight="bold">oxidized sulfur</text>
<text x="434.0" y="350.9" font-size="9.4" font-weight="bold">S 2p<tspan font-size="5.3" dy="4.0">1/2</tspan></text>
<text x="434.2" y="365.5" font-size="9.2" font-weight="bold">PbS</text>
<text x="510.1" y="338.6" font-size="9.4" font-weight="bold">S 2p<tspan font-size="5.3" dy="4.1">3/2</tspan></text>
<text x="510.3" y="353.5" font-size="9.2" font-weight="bold">PbS</text>
</svg>
</body></html>
